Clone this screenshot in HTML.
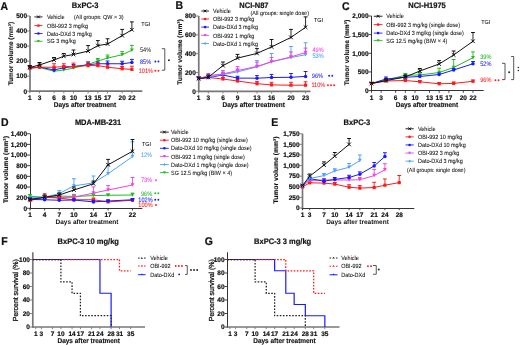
<!DOCTYPE html><html><head><meta charset="utf-8"><style>html,body{margin:0;padding:0;background:#fff;width:520px;height:345px;overflow:hidden}svg{display:block;will-change:transform}text{font-family:"Liberation Sans",sans-serif}</style></head><body>
<svg width="520" height="345" viewBox="0 0 520 345" text-rendering="geometricPrecision">
<rect width="520" height="345" fill="#fff"/>
<text x="0.60" y="9.58" font-size="11.24" font-weight="bold" text-anchor="start" fill="#111" stroke="#111" stroke-width="0.22" textLength="7.58" lengthAdjust="spacingAndGlyphs">A</text>
<text x="85.20" y="8.11" font-size="8.03" font-weight="bold" text-anchor="middle" fill="#111" stroke="#111" stroke-width="0.2" textLength="26.68" lengthAdjust="spacingAndGlyphs">BxPC-3</text>
<line x1="30.00" y1="16.00" x2="30.00" y2="92.00" stroke="#777" stroke-width="1.7"/>
<line x1="29.20" y1="91.20" x2="142.30" y2="91.20" stroke="#777" stroke-width="1.7"/>
<line x1="27.00" y1="91.20" x2="30.00" y2="91.20" stroke="#777" stroke-width="0.9"/>
<text x="27.10" y="93.51" font-size="6.6" font-weight="bold" text-anchor="end" fill="#111" stroke="#111" stroke-width="0.2" textLength="3.62" lengthAdjust="spacingAndGlyphs">0</text>
<line x1="27.00" y1="76.16" x2="30.00" y2="76.16" stroke="#777" stroke-width="0.9"/>
<text x="27.10" y="78.47" font-size="6.6" font-weight="bold" text-anchor="end" fill="#111" stroke="#111" stroke-width="0.2" textLength="10.85" lengthAdjust="spacingAndGlyphs">100</text>
<line x1="27.00" y1="61.12" x2="30.00" y2="61.12" stroke="#777" stroke-width="0.9"/>
<text x="27.10" y="63.43" font-size="6.6" font-weight="bold" text-anchor="end" fill="#111" stroke="#111" stroke-width="0.2" textLength="10.85" lengthAdjust="spacingAndGlyphs">200</text>
<line x1="27.00" y1="46.08" x2="30.00" y2="46.08" stroke="#777" stroke-width="0.9"/>
<text x="27.10" y="48.39" font-size="6.6" font-weight="bold" text-anchor="end" fill="#111" stroke="#111" stroke-width="0.2" textLength="10.85" lengthAdjust="spacingAndGlyphs">300</text>
<line x1="27.00" y1="31.04" x2="30.00" y2="31.04" stroke="#777" stroke-width="0.9"/>
<text x="27.10" y="33.35" font-size="6.6" font-weight="bold" text-anchor="end" fill="#111" stroke="#111" stroke-width="0.2" textLength="10.85" lengthAdjust="spacingAndGlyphs">400</text>
<line x1="27.00" y1="16.00" x2="30.00" y2="16.00" stroke="#777" stroke-width="0.9"/>
<text x="27.10" y="18.31" font-size="6.6" font-weight="bold" text-anchor="end" fill="#111" stroke="#111" stroke-width="0.2" textLength="10.85" lengthAdjust="spacingAndGlyphs">500</text>
<line x1="29.75" y1="91.20" x2="29.75" y2="93.40" stroke="#777" stroke-width="0.9"/>
<text x="29.75" y="99.71" font-size="6.6" font-weight="bold" text-anchor="middle" fill="#111" stroke="#111" stroke-width="0.2" textLength="3.62" lengthAdjust="spacingAndGlyphs">1</text>
<line x1="39.48" y1="91.20" x2="39.48" y2="93.40" stroke="#777" stroke-width="0.9"/>
<text x="39.48" y="99.71" font-size="6.6" font-weight="bold" text-anchor="middle" fill="#111" stroke="#111" stroke-width="0.2" textLength="3.62" lengthAdjust="spacingAndGlyphs">3</text>
<line x1="54.07" y1="91.20" x2="54.07" y2="93.40" stroke="#777" stroke-width="0.9"/>
<text x="54.07" y="99.71" font-size="6.6" font-weight="bold" text-anchor="middle" fill="#111" stroke="#111" stroke-width="0.2" textLength="3.62" lengthAdjust="spacingAndGlyphs">6</text>
<line x1="63.80" y1="91.20" x2="63.80" y2="93.40" stroke="#777" stroke-width="0.9"/>
<text x="63.80" y="99.71" font-size="6.6" font-weight="bold" text-anchor="middle" fill="#111" stroke="#111" stroke-width="0.2" textLength="3.62" lengthAdjust="spacingAndGlyphs">8</text>
<line x1="73.53" y1="91.20" x2="73.53" y2="93.40" stroke="#777" stroke-width="0.9"/>
<text x="73.53" y="99.71" font-size="6.6" font-weight="bold" text-anchor="middle" fill="#111" stroke="#111" stroke-width="0.2" textLength="7.23" lengthAdjust="spacingAndGlyphs">10</text>
<line x1="88.12" y1="91.20" x2="88.12" y2="93.40" stroke="#777" stroke-width="0.9"/>
<text x="88.12" y="99.71" font-size="6.6" font-weight="bold" text-anchor="middle" fill="#111" stroke="#111" stroke-width="0.2" textLength="7.23" lengthAdjust="spacingAndGlyphs">13</text>
<line x1="97.85" y1="91.20" x2="97.85" y2="93.40" stroke="#777" stroke-width="0.9"/>
<text x="97.85" y="99.71" font-size="6.6" font-weight="bold" text-anchor="middle" fill="#111" stroke="#111" stroke-width="0.2" textLength="7.23" lengthAdjust="spacingAndGlyphs">15</text>
<line x1="107.57" y1="91.20" x2="107.57" y2="93.40" stroke="#777" stroke-width="0.9"/>
<text x="107.57" y="99.71" font-size="6.6" font-weight="bold" text-anchor="middle" fill="#111" stroke="#111" stroke-width="0.2" textLength="7.23" lengthAdjust="spacingAndGlyphs">17</text>
<line x1="122.17" y1="91.20" x2="122.17" y2="93.40" stroke="#777" stroke-width="0.9"/>
<text x="122.17" y="99.71" font-size="6.6" font-weight="bold" text-anchor="middle" fill="#111" stroke="#111" stroke-width="0.2" textLength="7.23" lengthAdjust="spacingAndGlyphs">20</text>
<line x1="131.89" y1="91.20" x2="131.89" y2="93.40" stroke="#777" stroke-width="0.9"/>
<text x="131.89" y="99.71" font-size="6.6" font-weight="bold" text-anchor="middle" fill="#111" stroke="#111" stroke-width="0.2" textLength="7.23" lengthAdjust="spacingAndGlyphs">22</text>
<text x="0" y="2.34" transform="translate(11.10,53.60) rotate(-90)" font-size="6.68" font-weight="bold" text-anchor="middle" fill="#111" stroke="#111" stroke-width="0.13" textLength="63.40" lengthAdjust="spacingAndGlyphs">Tumor volume (mm³)</text>
<text x="85.00" y="107.02" font-size="6.91" font-weight="bold" text-anchor="middle" fill="#111" stroke="#111" stroke-width="0.13" textLength="62.47" lengthAdjust="spacingAndGlyphs">Days after treatment</text>
<line x1="34.40" y1="16.90" x2="42.50" y2="16.90" stroke="#111" stroke-width="0.9"/>
<path d="M37.09,15.53L39.82,18.27M37.09,18.27L39.82,15.53" stroke="#111" stroke-width="1.0"/>
<text x="46.90" y="19.03" font-size="6.1" font-weight="normal" text-anchor="start" fill="#111" stroke="#111" stroke-width="0.06" textLength="17.57" lengthAdjust="spacingAndGlyphs">Vehicle</text>
<line x1="34.40" y1="25.60" x2="42.50" y2="25.60" stroke="#ff1a1a" stroke-width="0.9"/>
<rect x="37.28" y="24.43" width="2.34" height="2.34" fill="#ff1a1a"/>
<text x="46.90" y="27.73" font-size="6.1" font-weight="normal" text-anchor="start" fill="#111" stroke="#111" stroke-width="0.06" textLength="41.20" lengthAdjust="spacingAndGlyphs">OBI-992 3 mg/kg</text>
<line x1="34.40" y1="33.50" x2="42.50" y2="33.50" stroke="#1a1aff" stroke-width="0.9"/>
<circle cx="38.45" cy="33.50" r="1.30" fill="#1a1aff"/>
<text x="46.90" y="35.63" font-size="6.1" font-weight="normal" text-anchor="start" fill="#111" stroke="#111" stroke-width="0.06" textLength="44.83" lengthAdjust="spacingAndGlyphs">Dato-DXd 3 mg/kg</text>
<line x1="34.40" y1="41.25" x2="42.50" y2="41.25" stroke="#22bb22" stroke-width="0.9"/>
<path d="M37.02,39.95L39.88,39.95L38.45,42.55Z" fill="#22bb22"/>
<text x="46.90" y="43.38" font-size="6.1" font-weight="normal" text-anchor="start" fill="#111" stroke="#111" stroke-width="0.06" textLength="28.78" lengthAdjust="spacingAndGlyphs">SG 3 mg/kg</text>
<text x="74.00" y="19.34" font-size="5.83" font-weight="normal" text-anchor="start" fill="#111" stroke="#111" stroke-width="0.06" textLength="49.52" lengthAdjust="spacingAndGlyphs">(All groups: QW × 3)</text>
<line x1="29.75" y1="68.00" x2="29.75" y2="66.00" stroke="#22bb22" stroke-width="0.9"/>
<line x1="27.85" y1="66.00" x2="31.65" y2="66.00" stroke="#22bb22" stroke-width="1.0"/>
<line x1="39.48" y1="67.50" x2="39.48" y2="66.00" stroke="#22bb22" stroke-width="0.9"/>
<line x1="37.58" y1="66.00" x2="41.38" y2="66.00" stroke="#22bb22" stroke-width="1.0"/>
<line x1="54.07" y1="71.25" x2="54.07" y2="69.50" stroke="#22bb22" stroke-width="0.9"/>
<line x1="52.17" y1="69.50" x2="55.97" y2="69.50" stroke="#22bb22" stroke-width="1.0"/>
<line x1="63.80" y1="70.00" x2="63.80" y2="68.00" stroke="#22bb22" stroke-width="0.9"/>
<line x1="61.90" y1="68.00" x2="65.70" y2="68.00" stroke="#22bb22" stroke-width="1.0"/>
<line x1="73.53" y1="68.10" x2="73.53" y2="66.00" stroke="#22bb22" stroke-width="0.9"/>
<line x1="71.63" y1="66.00" x2="75.43" y2="66.00" stroke="#22bb22" stroke-width="1.0"/>
<line x1="88.12" y1="64.40" x2="88.12" y2="62.00" stroke="#22bb22" stroke-width="0.9"/>
<line x1="86.22" y1="62.00" x2="90.02" y2="62.00" stroke="#22bb22" stroke-width="1.0"/>
<line x1="97.85" y1="61.00" x2="97.85" y2="58.50" stroke="#22bb22" stroke-width="0.9"/>
<line x1="95.95" y1="58.50" x2="99.75" y2="58.50" stroke="#22bb22" stroke-width="1.0"/>
<line x1="107.57" y1="58.10" x2="107.57" y2="55.00" stroke="#22bb22" stroke-width="0.9"/>
<line x1="105.67" y1="55.00" x2="109.47" y2="55.00" stroke="#22bb22" stroke-width="1.0"/>
<line x1="122.17" y1="54.75" x2="122.17" y2="51.60" stroke="#22bb22" stroke-width="0.9"/>
<line x1="120.27" y1="51.60" x2="124.07" y2="51.60" stroke="#22bb22" stroke-width="1.0"/>
<line x1="131.89" y1="50.25" x2="131.89" y2="45.40" stroke="#22bb22" stroke-width="0.9"/>
<line x1="129.99" y1="45.40" x2="133.79" y2="45.40" stroke="#22bb22" stroke-width="1.0"/>
<polyline points="29.75,68.00 39.48,67.50 54.07,71.25 63.80,70.00 73.53,68.10 88.12,64.40 97.85,61.00 107.57,58.10 122.17,54.75 131.89,50.25" fill="none" stroke="#22bb22" stroke-width="1.0" stroke-linejoin="miter"/>
<path d="M27.82,66.25L31.68,66.25L29.75,69.75Z" fill="#22bb22"/>
<path d="M37.55,65.75L41.40,65.75L39.48,69.25Z" fill="#22bb22"/>
<path d="M52.15,69.50L55.99,69.50L54.07,73.00Z" fill="#22bb22"/>
<path d="M61.87,68.25L65.72,68.25L63.80,71.75Z" fill="#22bb22"/>
<path d="M71.60,66.35L75.45,66.35L73.53,69.85Z" fill="#22bb22"/>
<path d="M86.19,62.65L90.04,62.65L88.12,66.15Z" fill="#22bb22"/>
<path d="M95.92,59.25L99.77,59.25L97.85,62.75Z" fill="#22bb22"/>
<path d="M105.65,56.35L109.50,56.35L107.57,59.85Z" fill="#22bb22"/>
<path d="M120.24,53.00L124.09,53.00L122.17,56.50Z" fill="#22bb22"/>
<path d="M129.97,48.50L133.82,48.50L131.89,52.00Z" fill="#22bb22"/>
<line x1="29.75" y1="68.00" x2="29.75" y2="66.00" stroke="#1a1aff" stroke-width="0.9"/>
<line x1="27.85" y1="66.00" x2="31.65" y2="66.00" stroke="#1a1aff" stroke-width="1.0"/>
<line x1="39.48" y1="67.00" x2="39.48" y2="65.50" stroke="#1a1aff" stroke-width="0.9"/>
<line x1="37.58" y1="65.50" x2="41.38" y2="65.50" stroke="#1a1aff" stroke-width="1.0"/>
<line x1="54.07" y1="70.00" x2="54.07" y2="68.00" stroke="#1a1aff" stroke-width="0.9"/>
<line x1="52.17" y1="68.00" x2="55.97" y2="68.00" stroke="#1a1aff" stroke-width="1.0"/>
<line x1="63.80" y1="67.75" x2="63.80" y2="66.00" stroke="#1a1aff" stroke-width="0.9"/>
<line x1="61.90" y1="66.00" x2="65.70" y2="66.00" stroke="#1a1aff" stroke-width="1.0"/>
<line x1="73.53" y1="66.50" x2="73.53" y2="64.50" stroke="#1a1aff" stroke-width="0.9"/>
<line x1="71.63" y1="64.50" x2="75.43" y2="64.50" stroke="#1a1aff" stroke-width="1.0"/>
<line x1="88.12" y1="64.75" x2="88.12" y2="63.00" stroke="#1a1aff" stroke-width="0.9"/>
<line x1="86.22" y1="63.00" x2="90.02" y2="63.00" stroke="#1a1aff" stroke-width="1.0"/>
<line x1="97.85" y1="63.75" x2="97.85" y2="62.00" stroke="#1a1aff" stroke-width="0.9"/>
<line x1="95.95" y1="62.00" x2="99.75" y2="62.00" stroke="#1a1aff" stroke-width="1.0"/>
<line x1="107.57" y1="63.75" x2="107.57" y2="61.00" stroke="#1a1aff" stroke-width="0.9"/>
<line x1="105.67" y1="61.00" x2="109.47" y2="61.00" stroke="#1a1aff" stroke-width="1.0"/>
<line x1="122.17" y1="63.75" x2="122.17" y2="61.25" stroke="#1a1aff" stroke-width="0.9"/>
<line x1="120.27" y1="61.25" x2="124.07" y2="61.25" stroke="#1a1aff" stroke-width="1.0"/>
<line x1="131.89" y1="62.50" x2="131.89" y2="59.40" stroke="#1a1aff" stroke-width="0.9"/>
<line x1="129.99" y1="59.40" x2="133.79" y2="59.40" stroke="#1a1aff" stroke-width="1.0"/>
<polyline points="29.75,68.00 39.48,67.00 54.07,70.00 63.80,67.75 73.53,66.50 88.12,64.75 97.85,63.75 107.57,63.75 122.17,63.75 131.89,62.50" fill="none" stroke="#1a1aff" stroke-width="1.0" stroke-linejoin="miter"/>
<circle cx="29.75" cy="68.00" r="1.75" fill="#1a1aff"/>
<circle cx="39.48" cy="67.00" r="1.75" fill="#1a1aff"/>
<circle cx="54.07" cy="70.00" r="1.75" fill="#1a1aff"/>
<circle cx="63.80" cy="67.75" r="1.75" fill="#1a1aff"/>
<circle cx="73.53" cy="66.50" r="1.75" fill="#1a1aff"/>
<circle cx="88.12" cy="64.75" r="1.75" fill="#1a1aff"/>
<circle cx="97.85" cy="63.75" r="1.75" fill="#1a1aff"/>
<circle cx="107.57" cy="63.75" r="1.75" fill="#1a1aff"/>
<circle cx="122.17" cy="63.75" r="1.75" fill="#1a1aff"/>
<circle cx="131.89" cy="62.50" r="1.75" fill="#1a1aff"/>
<line x1="29.75" y1="68.10" x2="29.75" y2="66.00" stroke="#ff1a1a" stroke-width="0.9"/>
<line x1="27.85" y1="66.00" x2="31.65" y2="66.00" stroke="#ff1a1a" stroke-width="1.0"/>
<line x1="39.48" y1="67.25" x2="39.48" y2="65.00" stroke="#ff1a1a" stroke-width="0.9"/>
<line x1="37.58" y1="65.00" x2="41.38" y2="65.00" stroke="#ff1a1a" stroke-width="1.0"/>
<line x1="54.07" y1="67.25" x2="54.07" y2="63.75" stroke="#ff1a1a" stroke-width="0.9"/>
<line x1="52.17" y1="63.75" x2="55.97" y2="63.75" stroke="#ff1a1a" stroke-width="1.0"/>
<line x1="63.80" y1="66.60" x2="63.80" y2="63.75" stroke="#ff1a1a" stroke-width="0.9"/>
<line x1="61.90" y1="63.75" x2="65.70" y2="63.75" stroke="#ff1a1a" stroke-width="1.0"/>
<line x1="73.53" y1="66.60" x2="73.53" y2="63.10" stroke="#ff1a1a" stroke-width="0.9"/>
<line x1="71.63" y1="63.10" x2="75.43" y2="63.10" stroke="#ff1a1a" stroke-width="1.0"/>
<line x1="88.12" y1="65.60" x2="88.12" y2="61.90" stroke="#ff1a1a" stroke-width="0.9"/>
<line x1="86.22" y1="61.90" x2="90.02" y2="61.90" stroke="#ff1a1a" stroke-width="1.0"/>
<line x1="97.85" y1="65.60" x2="97.85" y2="63.00" stroke="#ff1a1a" stroke-width="0.9"/>
<line x1="95.95" y1="63.00" x2="99.75" y2="63.00" stroke="#ff1a1a" stroke-width="1.0"/>
<line x1="107.57" y1="67.25" x2="107.57" y2="65.00" stroke="#ff1a1a" stroke-width="0.9"/>
<line x1="105.67" y1="65.00" x2="109.47" y2="65.00" stroke="#ff1a1a" stroke-width="1.0"/>
<line x1="122.17" y1="68.75" x2="122.17" y2="66.50" stroke="#ff1a1a" stroke-width="0.9"/>
<line x1="120.27" y1="66.50" x2="124.07" y2="66.50" stroke="#ff1a1a" stroke-width="1.0"/>
<line x1="131.89" y1="69.40" x2="131.89" y2="66.25" stroke="#ff1a1a" stroke-width="0.9"/>
<line x1="129.99" y1="66.25" x2="133.79" y2="66.25" stroke="#ff1a1a" stroke-width="1.0"/>
<polyline points="29.75,68.10 39.48,67.25 54.07,67.25 63.80,66.60 73.53,66.60 88.12,65.60 97.85,65.60 107.57,67.25 122.17,68.75 131.89,69.40" fill="none" stroke="#ff1a1a" stroke-width="1.0" stroke-linejoin="miter"/>
<rect x="28.18" y="66.52" width="3.15" height="3.15" fill="#ff1a1a"/>
<rect x="37.90" y="65.67" width="3.15" height="3.15" fill="#ff1a1a"/>
<rect x="52.49" y="65.67" width="3.15" height="3.15" fill="#ff1a1a"/>
<rect x="62.22" y="65.02" width="3.15" height="3.15" fill="#ff1a1a"/>
<rect x="71.95" y="65.02" width="3.15" height="3.15" fill="#ff1a1a"/>
<rect x="86.54" y="64.02" width="3.15" height="3.15" fill="#ff1a1a"/>
<rect x="96.27" y="64.02" width="3.15" height="3.15" fill="#ff1a1a"/>
<rect x="106.00" y="65.67" width="3.15" height="3.15" fill="#ff1a1a"/>
<rect x="120.59" y="67.17" width="3.15" height="3.15" fill="#ff1a1a"/>
<rect x="130.32" y="67.83" width="3.15" height="3.15" fill="#ff1a1a"/>
<line x1="29.75" y1="67.50" x2="29.75" y2="65.50" stroke="#111" stroke-width="0.9"/>
<line x1="27.85" y1="65.50" x2="31.65" y2="65.50" stroke="#111" stroke-width="1.0"/>
<line x1="39.48" y1="65.00" x2="39.48" y2="62.50" stroke="#111" stroke-width="0.9"/>
<line x1="37.58" y1="62.50" x2="41.38" y2="62.50" stroke="#111" stroke-width="1.0"/>
<line x1="54.07" y1="60.00" x2="54.07" y2="57.50" stroke="#111" stroke-width="0.9"/>
<line x1="52.17" y1="57.50" x2="55.97" y2="57.50" stroke="#111" stroke-width="1.0"/>
<line x1="63.80" y1="56.25" x2="63.80" y2="53.50" stroke="#111" stroke-width="0.9"/>
<line x1="61.90" y1="53.50" x2="65.70" y2="53.50" stroke="#111" stroke-width="1.0"/>
<line x1="73.53" y1="54.50" x2="73.53" y2="50.00" stroke="#111" stroke-width="0.9"/>
<line x1="71.63" y1="50.00" x2="75.43" y2="50.00" stroke="#111" stroke-width="1.0"/>
<line x1="88.12" y1="51.10" x2="88.12" y2="45.60" stroke="#111" stroke-width="0.9"/>
<line x1="86.22" y1="45.60" x2="90.02" y2="45.60" stroke="#111" stroke-width="1.0"/>
<line x1="97.85" y1="45.60" x2="97.85" y2="40.60" stroke="#111" stroke-width="0.9"/>
<line x1="95.95" y1="40.60" x2="99.75" y2="40.60" stroke="#111" stroke-width="1.0"/>
<line x1="107.57" y1="44.00" x2="107.57" y2="38.75" stroke="#111" stroke-width="0.9"/>
<line x1="105.67" y1="38.75" x2="109.47" y2="38.75" stroke="#111" stroke-width="1.0"/>
<line x1="122.17" y1="35.60" x2="122.17" y2="29.40" stroke="#111" stroke-width="0.9"/>
<line x1="120.27" y1="29.40" x2="124.07" y2="29.40" stroke="#111" stroke-width="1.0"/>
<line x1="131.89" y1="29.75" x2="131.89" y2="21.90" stroke="#111" stroke-width="0.9"/>
<line x1="129.99" y1="21.90" x2="133.79" y2="21.90" stroke="#111" stroke-width="1.0"/>
<polyline points="29.75,67.50 39.48,65.00 54.07,60.00 63.80,56.25 73.53,54.50 88.12,51.10 97.85,45.60 107.57,44.00 122.17,35.60 131.89,29.75" fill="none" stroke="#111" stroke-width="1.0" stroke-linejoin="miter"/>
<path d="M27.91,65.66L31.59,69.34M27.91,69.34L31.59,65.66" stroke="#111" stroke-width="1.0"/>
<path d="M37.64,63.16L41.32,66.84M37.64,66.84L41.32,63.16" stroke="#111" stroke-width="1.0"/>
<path d="M52.23,58.16L55.91,61.84M52.23,61.84L55.91,58.16" stroke="#111" stroke-width="1.0"/>
<path d="M61.96,54.41L65.64,58.09M61.96,58.09L65.64,54.41" stroke="#111" stroke-width="1.0"/>
<path d="M71.69,52.66L75.36,56.34M71.69,56.34L75.36,52.66" stroke="#111" stroke-width="1.0"/>
<path d="M86.28,49.26L89.96,52.94M86.28,52.94L89.96,49.26" stroke="#111" stroke-width="1.0"/>
<path d="M96.01,43.76L99.68,47.44M96.01,47.44L99.68,43.76" stroke="#111" stroke-width="1.0"/>
<path d="M105.74,42.16L109.41,45.84M105.74,45.84L109.41,42.16" stroke="#111" stroke-width="1.0"/>
<path d="M120.33,33.76L124.00,37.44M120.33,37.44L124.00,33.76" stroke="#111" stroke-width="1.0"/>
<path d="M130.06,27.91L133.73,31.59M130.06,31.59L133.73,27.91" stroke="#111" stroke-width="1.0"/>
<text x="141.25" y="25.79" font-size="5.83" font-weight="normal" text-anchor="start" fill="#111" stroke="#111" stroke-width="0.06" textLength="9.08" lengthAdjust="spacingAndGlyphs">TGI</text>
<text x="140.00" y="52.14" font-size="6.4" font-weight="normal" text-anchor="start" fill="#333" stroke="#333" stroke-width="0.06" textLength="11.21" lengthAdjust="spacingAndGlyphs">54%</text>
<text x="140.00" y="63.74" font-size="6.4" font-weight="normal" text-anchor="start" fill="#1a1aff" stroke="#1a1aff" stroke-width="0.06" textLength="11.21" lengthAdjust="spacingAndGlyphs">85%</text>
<text x="138.70" y="72.94" font-size="6.4" font-weight="normal" text-anchor="start" fill="#ff1a1a" stroke="#ff1a1a" stroke-width="0.06" textLength="14.32" lengthAdjust="spacingAndGlyphs">101%</text>
<circle cx="155.35" cy="61.50" r="0.95" fill="#1a1aff"/>
<circle cx="158.45" cy="61.50" r="0.95" fill="#1a1aff"/>
<circle cx="155.35" cy="70.70" r="0.95" fill="#ff1a1a"/>
<circle cx="158.45" cy="70.70" r="0.95" fill="#ff1a1a"/>
<path d="M161.90,48.70H164.80V70.20H161.90" fill="none" stroke="#444" stroke-width="0.9"/>
<circle cx="168.95" cy="60.30" r="0.95" fill="#222"/>
<text x="175.60" y="9.38" font-size="11.24" font-weight="bold" text-anchor="start" fill="#111" stroke="#111" stroke-width="0.22" textLength="7.58" lengthAdjust="spacingAndGlyphs">B</text>
<text x="253.90" y="8.31" font-size="8.03" font-weight="bold" text-anchor="middle" fill="#111" stroke="#111" stroke-width="0.2" textLength="29.17" lengthAdjust="spacingAndGlyphs">NCI-N87</text>
<line x1="198.75" y1="16.00" x2="198.75" y2="92.10" stroke="#777" stroke-width="1.7"/>
<line x1="197.95" y1="91.30" x2="310.50" y2="91.30" stroke="#777" stroke-width="1.7"/>
<line x1="195.75" y1="91.30" x2="198.75" y2="91.30" stroke="#777" stroke-width="0.9"/>
<text x="195.85" y="93.61" font-size="6.6" font-weight="bold" text-anchor="end" fill="#111" stroke="#111" stroke-width="0.2" textLength="3.62" lengthAdjust="spacingAndGlyphs">0</text>
<line x1="195.75" y1="72.48" x2="198.75" y2="72.48" stroke="#777" stroke-width="0.9"/>
<text x="195.85" y="74.79" font-size="6.6" font-weight="bold" text-anchor="end" fill="#111" stroke="#111" stroke-width="0.2" textLength="10.85" lengthAdjust="spacingAndGlyphs">200</text>
<line x1="195.75" y1="53.66" x2="198.75" y2="53.66" stroke="#777" stroke-width="0.9"/>
<text x="195.85" y="55.97" font-size="6.6" font-weight="bold" text-anchor="end" fill="#111" stroke="#111" stroke-width="0.2" textLength="10.85" lengthAdjust="spacingAndGlyphs">400</text>
<line x1="195.75" y1="34.84" x2="198.75" y2="34.84" stroke="#777" stroke-width="0.9"/>
<text x="195.85" y="37.15" font-size="6.6" font-weight="bold" text-anchor="end" fill="#111" stroke="#111" stroke-width="0.2" textLength="10.85" lengthAdjust="spacingAndGlyphs">600</text>
<line x1="195.75" y1="16.02" x2="198.75" y2="16.02" stroke="#777" stroke-width="0.9"/>
<text x="195.85" y="18.33" font-size="6.6" font-weight="bold" text-anchor="end" fill="#111" stroke="#111" stroke-width="0.2" textLength="10.85" lengthAdjust="spacingAndGlyphs">800</text>
<line x1="198.65" y1="91.30" x2="198.65" y2="93.50" stroke="#777" stroke-width="0.9"/>
<text x="198.65" y="99.51" font-size="6.6" font-weight="bold" text-anchor="middle" fill="#111" stroke="#111" stroke-width="0.2" textLength="3.62" lengthAdjust="spacingAndGlyphs">1</text>
<line x1="208.37" y1="91.30" x2="208.37" y2="93.50" stroke="#777" stroke-width="0.9"/>
<text x="208.37" y="99.51" font-size="6.6" font-weight="bold" text-anchor="middle" fill="#111" stroke="#111" stroke-width="0.2" textLength="3.62" lengthAdjust="spacingAndGlyphs">3</text>
<line x1="222.95" y1="91.30" x2="222.95" y2="93.50" stroke="#777" stroke-width="0.9"/>
<text x="222.95" y="99.51" font-size="6.6" font-weight="bold" text-anchor="middle" fill="#111" stroke="#111" stroke-width="0.2" textLength="3.62" lengthAdjust="spacingAndGlyphs">6</text>
<line x1="237.53" y1="91.30" x2="237.53" y2="93.50" stroke="#777" stroke-width="0.9"/>
<text x="237.53" y="99.51" font-size="6.6" font-weight="bold" text-anchor="middle" fill="#111" stroke="#111" stroke-width="0.2" textLength="3.62" lengthAdjust="spacingAndGlyphs">9</text>
<line x1="256.97" y1="91.30" x2="256.97" y2="93.50" stroke="#777" stroke-width="0.9"/>
<text x="256.97" y="99.51" font-size="6.6" font-weight="bold" text-anchor="middle" fill="#111" stroke="#111" stroke-width="0.2" textLength="7.23" lengthAdjust="spacingAndGlyphs">13</text>
<line x1="271.55" y1="91.30" x2="271.55" y2="93.50" stroke="#777" stroke-width="0.9"/>
<text x="271.55" y="99.51" font-size="6.6" font-weight="bold" text-anchor="middle" fill="#111" stroke="#111" stroke-width="0.2" textLength="7.23" lengthAdjust="spacingAndGlyphs">16</text>
<line x1="290.99" y1="91.30" x2="290.99" y2="93.50" stroke="#777" stroke-width="0.9"/>
<text x="290.99" y="99.51" font-size="6.6" font-weight="bold" text-anchor="middle" fill="#111" stroke="#111" stroke-width="0.2" textLength="7.23" lengthAdjust="spacingAndGlyphs">20</text>
<line x1="305.57" y1="91.30" x2="305.57" y2="93.50" stroke="#777" stroke-width="0.9"/>
<text x="305.57" y="99.51" font-size="6.6" font-weight="bold" text-anchor="middle" fill="#111" stroke="#111" stroke-width="0.2" textLength="7.23" lengthAdjust="spacingAndGlyphs">23</text>
<text x="0" y="2.34" transform="translate(179.40,52.00) rotate(-90)" font-size="6.68" font-weight="bold" text-anchor="middle" fill="#111" stroke="#111" stroke-width="0.13" textLength="65.40" lengthAdjust="spacingAndGlyphs">Tumor volume (mm³)</text>
<text x="253.75" y="106.82" font-size="6.91" font-weight="bold" text-anchor="middle" fill="#111" stroke="#111" stroke-width="0.13" textLength="62.47" lengthAdjust="spacingAndGlyphs">Days after treatment</text>
<line x1="201.25" y1="11.00" x2="209.00" y2="11.00" stroke="#111" stroke-width="0.9"/>
<path d="M203.76,9.63L206.49,12.37M203.76,12.37L206.49,9.63" stroke="#111" stroke-width="1.0"/>
<text x="213.10" y="13.13" font-size="6.1" font-weight="normal" text-anchor="start" fill="#111" stroke="#111" stroke-width="0.06" textLength="17.57" lengthAdjust="spacingAndGlyphs">Vehicle</text>
<line x1="201.25" y1="19.00" x2="209.00" y2="19.00" stroke="#ff1a1a" stroke-width="0.9"/>
<circle cx="205.12" cy="19.00" r="1.30" fill="#ff1a1a"/>
<text x="213.10" y="21.13" font-size="6.1" font-weight="normal" text-anchor="start" fill="#111" stroke="#111" stroke-width="0.06" textLength="41.20" lengthAdjust="spacingAndGlyphs">OBI-992 3 mg/kg</text>
<line x1="201.25" y1="27.10" x2="209.00" y2="27.10" stroke="#1a1aff" stroke-width="0.9"/>
<circle cx="205.12" cy="27.10" r="1.30" fill="#1a1aff"/>
<text x="213.10" y="29.23" font-size="6.1" font-weight="normal" text-anchor="start" fill="#111" stroke="#111" stroke-width="0.06" textLength="44.83" lengthAdjust="spacingAndGlyphs">Dato-DXd 3 mg/kg</text>
<line x1="201.25" y1="35.40" x2="209.00" y2="35.40" stroke="#ee44dd" stroke-width="0.9"/>
<path d="M203.69,34.10L206.56,34.10L205.12,36.70Z" fill="#ee44dd"/>
<text x="213.10" y="37.53" font-size="6.1" font-weight="normal" text-anchor="start" fill="#111" stroke="#111" stroke-width="0.06" textLength="41.20" lengthAdjust="spacingAndGlyphs">OBI-992 1 mg/kg</text>
<line x1="201.25" y1="43.50" x2="209.00" y2="43.50" stroke="#4da3ff" stroke-width="0.9"/>
<path d="M205.12,41.94L206.43,43.50L205.12,45.06L203.82,43.50Z" fill="#4da3ff"/>
<text x="213.10" y="45.63" font-size="6.1" font-weight="normal" text-anchor="start" fill="#111" stroke="#111" stroke-width="0.06" textLength="44.83" lengthAdjust="spacingAndGlyphs">Dato-DXd 1 mg/kg</text>
<text x="250.50" y="14.54" font-size="5.83" font-weight="normal" text-anchor="start" fill="#111" stroke="#111" stroke-width="0.06" textLength="58.47" lengthAdjust="spacingAndGlyphs">(All groups: single dose)</text>
<line x1="198.65" y1="78.60" x2="198.65" y2="77.00" stroke="#ff1a1a" stroke-width="0.9"/>
<line x1="196.75" y1="77.00" x2="200.55" y2="77.00" stroke="#ff1a1a" stroke-width="1.0"/>
<line x1="208.37" y1="77.50" x2="208.37" y2="76.00" stroke="#ff1a1a" stroke-width="0.9"/>
<line x1="206.47" y1="76.00" x2="210.27" y2="76.00" stroke="#ff1a1a" stroke-width="1.0"/>
<line x1="222.95" y1="79.00" x2="222.95" y2="77.50" stroke="#ff1a1a" stroke-width="0.9"/>
<line x1="221.05" y1="77.50" x2="224.85" y2="77.50" stroke="#ff1a1a" stroke-width="1.0"/>
<line x1="237.53" y1="81.00" x2="237.53" y2="79.50" stroke="#ff1a1a" stroke-width="0.9"/>
<line x1="235.63" y1="79.50" x2="239.43" y2="79.50" stroke="#ff1a1a" stroke-width="1.0"/>
<line x1="256.97" y1="83.70" x2="256.97" y2="81.40" stroke="#ff1a1a" stroke-width="0.9"/>
<line x1="255.07" y1="81.40" x2="258.87" y2="81.40" stroke="#ff1a1a" stroke-width="1.0"/>
<line x1="271.55" y1="84.90" x2="271.55" y2="82.30" stroke="#ff1a1a" stroke-width="0.9"/>
<line x1="269.65" y1="82.30" x2="273.45" y2="82.30" stroke="#ff1a1a" stroke-width="1.0"/>
<line x1="290.99" y1="85.20" x2="290.99" y2="82.30" stroke="#ff1a1a" stroke-width="0.9"/>
<line x1="289.09" y1="82.30" x2="292.89" y2="82.30" stroke="#ff1a1a" stroke-width="1.0"/>
<line x1="305.57" y1="85.20" x2="305.57" y2="81.80" stroke="#ff1a1a" stroke-width="0.9"/>
<line x1="303.67" y1="81.80" x2="307.47" y2="81.80" stroke="#ff1a1a" stroke-width="1.0"/>
<polyline points="198.65,78.60 208.37,77.50 222.95,79.00 237.53,81.00 256.97,83.70 271.55,84.90 290.99,85.20 305.57,85.20" fill="none" stroke="#ff1a1a" stroke-width="1.0" stroke-linejoin="miter"/>
<rect x="197.08" y="77.02" width="3.15" height="3.15" fill="#ff1a1a"/>
<rect x="206.80" y="75.92" width="3.15" height="3.15" fill="#ff1a1a"/>
<rect x="221.38" y="77.42" width="3.15" height="3.15" fill="#ff1a1a"/>
<rect x="235.96" y="79.42" width="3.15" height="3.15" fill="#ff1a1a"/>
<rect x="255.40" y="82.12" width="3.15" height="3.15" fill="#ff1a1a"/>
<rect x="269.98" y="83.33" width="3.15" height="3.15" fill="#ff1a1a"/>
<rect x="289.42" y="83.62" width="3.15" height="3.15" fill="#ff1a1a"/>
<rect x="304.00" y="83.62" width="3.15" height="3.15" fill="#ff1a1a"/>
<line x1="198.65" y1="78.60" x2="198.65" y2="77.00" stroke="#1a1aff" stroke-width="0.9"/>
<line x1="196.75" y1="77.00" x2="200.55" y2="77.00" stroke="#1a1aff" stroke-width="1.0"/>
<line x1="208.37" y1="77.50" x2="208.37" y2="76.00" stroke="#1a1aff" stroke-width="0.9"/>
<line x1="206.47" y1="76.00" x2="210.27" y2="76.00" stroke="#1a1aff" stroke-width="1.0"/>
<line x1="222.95" y1="75.00" x2="222.95" y2="73.00" stroke="#1a1aff" stroke-width="0.9"/>
<line x1="221.05" y1="73.00" x2="224.85" y2="73.00" stroke="#1a1aff" stroke-width="1.0"/>
<line x1="237.53" y1="78.10" x2="237.53" y2="76.25" stroke="#1a1aff" stroke-width="0.9"/>
<line x1="235.63" y1="76.25" x2="239.43" y2="76.25" stroke="#1a1aff" stroke-width="1.0"/>
<line x1="256.97" y1="78.20" x2="256.97" y2="75.60" stroke="#1a1aff" stroke-width="0.9"/>
<line x1="255.07" y1="75.60" x2="258.87" y2="75.60" stroke="#1a1aff" stroke-width="1.0"/>
<line x1="271.55" y1="77.50" x2="271.55" y2="74.40" stroke="#1a1aff" stroke-width="0.9"/>
<line x1="269.65" y1="74.40" x2="273.45" y2="74.40" stroke="#1a1aff" stroke-width="1.0"/>
<line x1="290.99" y1="77.30" x2="290.99" y2="73.50" stroke="#1a1aff" stroke-width="0.9"/>
<line x1="289.09" y1="73.50" x2="292.89" y2="73.50" stroke="#1a1aff" stroke-width="1.0"/>
<line x1="305.57" y1="76.40" x2="305.57" y2="71.50" stroke="#1a1aff" stroke-width="0.9"/>
<line x1="303.67" y1="71.50" x2="307.47" y2="71.50" stroke="#1a1aff" stroke-width="1.0"/>
<polyline points="198.65,78.60 208.37,77.50 222.95,75.00 237.53,78.10 256.97,78.20 271.55,77.50 290.99,77.30 305.57,76.40" fill="none" stroke="#1a1aff" stroke-width="1.0" stroke-linejoin="miter"/>
<circle cx="198.65" cy="78.60" r="1.75" fill="#1a1aff"/>
<circle cx="208.37" cy="77.50" r="1.75" fill="#1a1aff"/>
<circle cx="222.95" cy="75.00" r="1.75" fill="#1a1aff"/>
<circle cx="237.53" cy="78.10" r="1.75" fill="#1a1aff"/>
<circle cx="256.97" cy="78.20" r="1.75" fill="#1a1aff"/>
<circle cx="271.55" cy="77.50" r="1.75" fill="#1a1aff"/>
<circle cx="290.99" cy="77.30" r="1.75" fill="#1a1aff"/>
<circle cx="305.57" cy="76.40" r="1.75" fill="#1a1aff"/>
<line x1="198.65" y1="78.60" x2="198.65" y2="77.00" stroke="#4da3ff" stroke-width="0.9"/>
<line x1="196.75" y1="77.00" x2="200.55" y2="77.00" stroke="#4da3ff" stroke-width="1.0"/>
<line x1="208.37" y1="77.00" x2="208.37" y2="75.50" stroke="#4da3ff" stroke-width="0.9"/>
<line x1="206.47" y1="75.50" x2="210.27" y2="75.50" stroke="#4da3ff" stroke-width="1.0"/>
<line x1="222.95" y1="74.40" x2="222.95" y2="72.00" stroke="#4da3ff" stroke-width="0.9"/>
<line x1="221.05" y1="72.00" x2="224.85" y2="72.00" stroke="#4da3ff" stroke-width="1.0"/>
<line x1="237.53" y1="71.90" x2="237.53" y2="69.00" stroke="#4da3ff" stroke-width="0.9"/>
<line x1="235.63" y1="69.00" x2="239.43" y2="69.00" stroke="#4da3ff" stroke-width="1.0"/>
<line x1="256.97" y1="66.90" x2="256.97" y2="60.60" stroke="#4da3ff" stroke-width="0.9"/>
<line x1="255.07" y1="60.60" x2="258.87" y2="60.60" stroke="#4da3ff" stroke-width="1.0"/>
<line x1="271.55" y1="61.50" x2="271.55" y2="53.50" stroke="#4da3ff" stroke-width="0.9"/>
<line x1="269.65" y1="53.50" x2="273.45" y2="53.50" stroke="#4da3ff" stroke-width="1.0"/>
<line x1="290.99" y1="57.50" x2="290.99" y2="46.50" stroke="#4da3ff" stroke-width="0.9"/>
<line x1="289.09" y1="46.50" x2="292.89" y2="46.50" stroke="#4da3ff" stroke-width="1.0"/>
<line x1="305.57" y1="54.75" x2="305.57" y2="42.75" stroke="#4da3ff" stroke-width="0.9"/>
<line x1="303.67" y1="42.75" x2="307.47" y2="42.75" stroke="#4da3ff" stroke-width="1.0"/>
<polyline points="198.65,78.60 208.37,77.00 222.95,74.40 237.53,71.90 256.97,66.90 271.55,61.50 290.99,57.50 305.57,54.75" fill="none" stroke="#4da3ff" stroke-width="1.0" stroke-linejoin="miter"/>
<path d="M196.72,76.85L200.58,76.85L198.65,80.35Z" fill="#4da3ff"/>
<path d="M206.44,75.25L210.30,75.25L208.37,78.75Z" fill="#4da3ff"/>
<path d="M221.03,72.65L224.88,72.65L222.95,76.15Z" fill="#4da3ff"/>
<path d="M235.60,70.15L239.46,70.15L237.53,73.65Z" fill="#4da3ff"/>
<path d="M255.05,65.15L258.90,65.15L256.97,68.65Z" fill="#4da3ff"/>
<path d="M269.62,59.75L273.48,59.75L271.55,63.25Z" fill="#4da3ff"/>
<path d="M289.06,55.75L292.92,55.75L290.99,59.25Z" fill="#4da3ff"/>
<path d="M303.64,53.00L307.50,53.00L305.57,56.50Z" fill="#4da3ff"/>
<line x1="198.65" y1="78.60" x2="198.65" y2="77.00" stroke="#ee44dd" stroke-width="0.9"/>
<line x1="196.75" y1="77.00" x2="200.55" y2="77.00" stroke="#ee44dd" stroke-width="1.0"/>
<line x1="208.37" y1="75.60" x2="208.37" y2="73.50" stroke="#ee44dd" stroke-width="0.9"/>
<line x1="206.47" y1="73.50" x2="210.27" y2="73.50" stroke="#ee44dd" stroke-width="1.0"/>
<line x1="222.95" y1="74.00" x2="222.95" y2="70.60" stroke="#ee44dd" stroke-width="0.9"/>
<line x1="221.05" y1="70.60" x2="224.85" y2="70.60" stroke="#ee44dd" stroke-width="1.0"/>
<line x1="237.53" y1="70.60" x2="237.53" y2="66.60" stroke="#ee44dd" stroke-width="0.9"/>
<line x1="235.63" y1="66.60" x2="239.43" y2="66.60" stroke="#ee44dd" stroke-width="1.0"/>
<line x1="256.97" y1="66.40" x2="256.97" y2="62.20" stroke="#ee44dd" stroke-width="0.9"/>
<line x1="255.07" y1="62.20" x2="258.87" y2="62.20" stroke="#ee44dd" stroke-width="1.0"/>
<line x1="271.55" y1="61.90" x2="271.55" y2="57.50" stroke="#ee44dd" stroke-width="0.9"/>
<line x1="269.65" y1="57.50" x2="273.45" y2="57.50" stroke="#ee44dd" stroke-width="1.0"/>
<line x1="290.99" y1="56.90" x2="290.99" y2="51.90" stroke="#ee44dd" stroke-width="0.9"/>
<line x1="289.09" y1="51.90" x2="292.89" y2="51.90" stroke="#ee44dd" stroke-width="1.0"/>
<line x1="305.57" y1="52.50" x2="305.57" y2="48.10" stroke="#ee44dd" stroke-width="0.9"/>
<line x1="303.67" y1="48.10" x2="307.47" y2="48.10" stroke="#ee44dd" stroke-width="1.0"/>
<polyline points="198.65,78.60 208.37,75.60 222.95,74.00 237.53,70.60 256.97,66.40 271.55,61.90 290.99,56.90 305.57,52.50" fill="none" stroke="#ee44dd" stroke-width="1.0" stroke-linejoin="miter"/>
<path d="M196.72,76.85L200.58,76.85L198.65,80.35Z" fill="#ee44dd"/>
<path d="M206.44,73.85L210.30,73.85L208.37,77.35Z" fill="#ee44dd"/>
<path d="M221.03,72.25L224.88,72.25L222.95,75.75Z" fill="#ee44dd"/>
<path d="M235.60,68.85L239.46,68.85L237.53,72.35Z" fill="#ee44dd"/>
<path d="M255.05,64.65L258.90,64.65L256.97,68.15Z" fill="#ee44dd"/>
<path d="M269.62,60.15L273.48,60.15L271.55,63.65Z" fill="#ee44dd"/>
<path d="M289.06,55.15L292.92,55.15L290.99,58.65Z" fill="#ee44dd"/>
<path d="M303.64,50.75L307.50,50.75L305.57,54.25Z" fill="#ee44dd"/>
<line x1="198.65" y1="78.60" x2="198.65" y2="77.00" stroke="#111" stroke-width="0.9"/>
<line x1="196.75" y1="77.00" x2="200.55" y2="77.00" stroke="#111" stroke-width="1.0"/>
<line x1="208.37" y1="77.25" x2="208.37" y2="75.00" stroke="#111" stroke-width="0.9"/>
<line x1="206.47" y1="75.00" x2="210.27" y2="75.00" stroke="#111" stroke-width="1.0"/>
<line x1="222.95" y1="65.60" x2="222.95" y2="62.00" stroke="#111" stroke-width="0.9"/>
<line x1="221.05" y1="62.00" x2="224.85" y2="62.00" stroke="#111" stroke-width="1.0"/>
<line x1="237.53" y1="58.10" x2="237.53" y2="54.40" stroke="#111" stroke-width="0.9"/>
<line x1="235.63" y1="54.40" x2="239.43" y2="54.40" stroke="#111" stroke-width="1.0"/>
<line x1="256.97" y1="53.40" x2="256.97" y2="48.60" stroke="#111" stroke-width="0.9"/>
<line x1="255.07" y1="48.60" x2="258.87" y2="48.60" stroke="#111" stroke-width="1.0"/>
<line x1="271.55" y1="46.90" x2="271.55" y2="39.50" stroke="#111" stroke-width="0.9"/>
<line x1="269.65" y1="39.50" x2="273.45" y2="39.50" stroke="#111" stroke-width="1.0"/>
<line x1="290.99" y1="37.40" x2="290.99" y2="29.40" stroke="#111" stroke-width="0.9"/>
<line x1="289.09" y1="29.40" x2="292.89" y2="29.40" stroke="#111" stroke-width="1.0"/>
<line x1="305.57" y1="27.25" x2="305.57" y2="16.90" stroke="#111" stroke-width="0.9"/>
<line x1="303.67" y1="16.90" x2="307.47" y2="16.90" stroke="#111" stroke-width="1.0"/>
<polyline points="198.65,78.60 208.37,77.25 222.95,65.60 237.53,58.10 256.97,53.40 271.55,46.90 290.99,37.40 305.57,27.25" fill="none" stroke="#111" stroke-width="1.0" stroke-linejoin="miter"/>
<path d="M196.81,76.76L200.49,80.44M196.81,80.44L200.49,76.76" stroke="#111" stroke-width="1.0"/>
<path d="M206.53,75.41L210.21,79.09M206.53,79.09L210.21,75.41" stroke="#111" stroke-width="1.0"/>
<path d="M221.11,63.76L224.79,67.44M221.11,67.44L224.79,63.76" stroke="#111" stroke-width="1.0"/>
<path d="M235.69,56.26L239.37,59.94M235.69,59.94L239.37,56.26" stroke="#111" stroke-width="1.0"/>
<path d="M255.13,51.56L258.81,55.24M255.13,55.24L258.81,51.56" stroke="#111" stroke-width="1.0"/>
<path d="M269.71,45.06L273.39,48.74M269.71,48.74L273.39,45.06" stroke="#111" stroke-width="1.0"/>
<path d="M289.15,35.56L292.83,39.24M289.15,39.24L292.83,35.56" stroke="#111" stroke-width="1.0"/>
<path d="M303.73,25.41L307.41,29.09M303.73,29.09L307.41,25.41" stroke="#111" stroke-width="1.0"/>
<text x="314.00" y="22.04" font-size="5.83" font-weight="normal" text-anchor="start" fill="#111" stroke="#111" stroke-width="0.06" textLength="9.08" lengthAdjust="spacingAndGlyphs">TGI</text>
<text x="312.50" y="51.74" font-size="6.4" font-weight="normal" text-anchor="start" fill="#ee44dd" stroke="#ee44dd" stroke-width="0.06" textLength="11.21" lengthAdjust="spacingAndGlyphs">49%</text>
<text x="312.50" y="58.04" font-size="6.4" font-weight="normal" text-anchor="start" fill="#4da3ff" stroke="#4da3ff" stroke-width="0.06" textLength="11.21" lengthAdjust="spacingAndGlyphs">53%</text>
<text x="311.80" y="77.94" font-size="6.4" font-weight="normal" text-anchor="start" fill="#1a1aff" stroke="#1a1aff" stroke-width="0.06" textLength="11.21" lengthAdjust="spacingAndGlyphs">96%</text>
<text x="311.40" y="87.44" font-size="6.4" font-weight="normal" text-anchor="start" fill="#ff1a1a" stroke="#ff1a1a" stroke-width="0.06" textLength="13.91" lengthAdjust="spacingAndGlyphs">110%</text>
<circle cx="329.15" cy="75.70" r="0.95" fill="#1a1aff"/>
<circle cx="332.25" cy="75.70" r="0.95" fill="#1a1aff"/>
<circle cx="327.95" cy="85.20" r="0.95" fill="#ff1a1a"/>
<circle cx="331.05" cy="85.20" r="0.95" fill="#ff1a1a"/>
<circle cx="334.15" cy="85.20" r="0.95" fill="#ff1a1a"/>
<text x="341.90" y="9.58" font-size="11.24" font-weight="bold" text-anchor="start" fill="#111" stroke="#111" stroke-width="0.22" textLength="7.58" lengthAdjust="spacingAndGlyphs">C</text>
<text x="427.00" y="8.21" font-size="8.03" font-weight="bold" text-anchor="middle" fill="#111" stroke="#111" stroke-width="0.2" textLength="37.52" lengthAdjust="spacingAndGlyphs">NCI-H1975</text>
<line x1="371.50" y1="16.00" x2="371.50" y2="91.30" stroke="#333" stroke-width="1.05"/>
<line x1="370.70" y1="90.50" x2="483.70" y2="90.50" stroke="#333" stroke-width="1.05"/>
<line x1="368.50" y1="90.60" x2="371.50" y2="90.60" stroke="#333" stroke-width="0.9"/>
<text x="368.60" y="92.91" font-size="6.6" font-weight="bold" text-anchor="end" fill="#111" stroke="#111" stroke-width="0.2" textLength="3.62" lengthAdjust="spacingAndGlyphs">0</text>
<line x1="368.50" y1="71.95" x2="371.50" y2="71.95" stroke="#333" stroke-width="0.9"/>
<text x="368.60" y="74.26" font-size="6.6" font-weight="bold" text-anchor="end" fill="#111" stroke="#111" stroke-width="0.2" textLength="10.85" lengthAdjust="spacingAndGlyphs">500</text>
<line x1="368.50" y1="53.30" x2="371.50" y2="53.30" stroke="#333" stroke-width="0.9"/>
<text x="368.60" y="55.61" font-size="6.6" font-weight="bold" text-anchor="end" fill="#111" stroke="#111" stroke-width="0.2" textLength="16.27" lengthAdjust="spacingAndGlyphs">1,000</text>
<line x1="368.50" y1="34.65" x2="371.50" y2="34.65" stroke="#333" stroke-width="0.9"/>
<text x="368.60" y="36.96" font-size="6.6" font-weight="bold" text-anchor="end" fill="#111" stroke="#111" stroke-width="0.2" textLength="16.27" lengthAdjust="spacingAndGlyphs">1,500</text>
<line x1="368.50" y1="16.00" x2="371.50" y2="16.00" stroke="#333" stroke-width="0.9"/>
<text x="368.60" y="18.31" font-size="6.6" font-weight="bold" text-anchor="end" fill="#111" stroke="#111" stroke-width="0.2" textLength="16.27" lengthAdjust="spacingAndGlyphs">2,000</text>
<line x1="371.50" y1="90.60" x2="371.50" y2="92.80" stroke="#333" stroke-width="0.9"/>
<text x="371.50" y="99.61" font-size="6.6" font-weight="bold" text-anchor="middle" fill="#111" stroke="#111" stroke-width="0.2" textLength="3.62" lengthAdjust="spacingAndGlyphs">1</text>
<line x1="381.17" y1="90.60" x2="381.17" y2="92.80" stroke="#333" stroke-width="0.9"/>
<text x="381.17" y="99.61" font-size="6.6" font-weight="bold" text-anchor="middle" fill="#111" stroke="#111" stroke-width="0.2" textLength="3.62" lengthAdjust="spacingAndGlyphs">3</text>
<line x1="395.67" y1="90.60" x2="395.67" y2="92.80" stroke="#333" stroke-width="0.9"/>
<text x="395.67" y="99.61" font-size="6.6" font-weight="bold" text-anchor="middle" fill="#111" stroke="#111" stroke-width="0.2" textLength="3.62" lengthAdjust="spacingAndGlyphs">6</text>
<line x1="405.33" y1="90.60" x2="405.33" y2="92.80" stroke="#333" stroke-width="0.9"/>
<text x="405.33" y="99.61" font-size="6.6" font-weight="bold" text-anchor="middle" fill="#111" stroke="#111" stroke-width="0.2" textLength="3.62" lengthAdjust="spacingAndGlyphs">8</text>
<line x1="415.00" y1="90.60" x2="415.00" y2="92.80" stroke="#333" stroke-width="0.9"/>
<text x="415.00" y="99.61" font-size="6.6" font-weight="bold" text-anchor="middle" fill="#111" stroke="#111" stroke-width="0.2" textLength="7.23" lengthAdjust="spacingAndGlyphs">10</text>
<line x1="429.50" y1="90.60" x2="429.50" y2="92.80" stroke="#333" stroke-width="0.9"/>
<text x="429.50" y="99.61" font-size="6.6" font-weight="bold" text-anchor="middle" fill="#111" stroke="#111" stroke-width="0.2" textLength="7.23" lengthAdjust="spacingAndGlyphs">13</text>
<line x1="439.16" y1="90.60" x2="439.16" y2="92.80" stroke="#333" stroke-width="0.9"/>
<text x="439.16" y="99.61" font-size="6.6" font-weight="bold" text-anchor="middle" fill="#111" stroke="#111" stroke-width="0.2" textLength="7.23" lengthAdjust="spacingAndGlyphs">15</text>
<line x1="448.83" y1="90.60" x2="448.83" y2="92.80" stroke="#333" stroke-width="0.9"/>
<text x="448.83" y="99.61" font-size="6.6" font-weight="bold" text-anchor="middle" fill="#111" stroke="#111" stroke-width="0.2" textLength="7.23" lengthAdjust="spacingAndGlyphs">17</text>
<line x1="463.33" y1="90.60" x2="463.33" y2="92.80" stroke="#333" stroke-width="0.9"/>
<text x="463.33" y="99.61" font-size="6.6" font-weight="bold" text-anchor="middle" fill="#111" stroke="#111" stroke-width="0.2" textLength="7.23" lengthAdjust="spacingAndGlyphs">20</text>
<line x1="472.99" y1="90.60" x2="472.99" y2="92.80" stroke="#333" stroke-width="0.9"/>
<text x="472.99" y="99.61" font-size="6.6" font-weight="bold" text-anchor="middle" fill="#111" stroke="#111" stroke-width="0.2" textLength="7.23" lengthAdjust="spacingAndGlyphs">22</text>
<text x="0" y="2.34" transform="translate(346.90,52.60) rotate(-90)" font-size="6.68" font-weight="bold" text-anchor="middle" fill="#111" stroke="#111" stroke-width="0.13" textLength="65.40" lengthAdjust="spacingAndGlyphs">Tumor volume (mm³)</text>
<text x="427.00" y="106.92" font-size="6.91" font-weight="bold" text-anchor="middle" fill="#111" stroke="#111" stroke-width="0.13" textLength="62.47" lengthAdjust="spacingAndGlyphs">Days after treatment</text>
<line x1="373.75" y1="16.25" x2="382.50" y2="16.25" stroke="#111" stroke-width="0.9"/>
<path d="M376.76,14.88L379.49,17.62M376.76,17.62L379.49,14.88" stroke="#111" stroke-width="1.0"/>
<text x="386.25" y="18.38" font-size="6.1" font-weight="normal" text-anchor="start" fill="#111" stroke="#111" stroke-width="0.06" textLength="17.57" lengthAdjust="spacingAndGlyphs">Vehicle</text>
<line x1="373.75" y1="24.60" x2="382.50" y2="24.60" stroke="#ff1a1a" stroke-width="0.9"/>
<circle cx="378.12" cy="24.60" r="1.30" fill="#ff1a1a"/>
<text x="386.25" y="26.73" font-size="6.1" font-weight="normal" text-anchor="start" fill="#111" stroke="#111" stroke-width="0.06" textLength="73.91" lengthAdjust="spacingAndGlyphs">OBI-992 3 mg/kg (single dose)</text>
<line x1="373.75" y1="33.10" x2="382.50" y2="33.10" stroke="#1a1aff" stroke-width="0.9"/>
<circle cx="378.12" cy="33.10" r="1.30" fill="#1a1aff"/>
<text x="386.25" y="35.23" font-size="6.1" font-weight="normal" text-anchor="start" fill="#111" stroke="#111" stroke-width="0.06" textLength="77.55" lengthAdjust="spacingAndGlyphs">Dato-DXd 3 mg/kg (single dose)</text>
<line x1="373.75" y1="40.60" x2="382.50" y2="40.60" stroke="#22bb22" stroke-width="0.9"/>
<path d="M376.69,39.30L379.56,39.30L378.12,41.90Z" fill="#22bb22"/>
<text x="386.25" y="42.73" font-size="6.1" font-weight="normal" text-anchor="start" fill="#111" stroke="#111" stroke-width="0.06" textLength="61.03" lengthAdjust="spacingAndGlyphs">SG 12.5 mg/kg (BIW × 4)</text>
<line x1="371.50" y1="83.50" x2="371.50" y2="82.50" stroke="#22bb22" stroke-width="0.9"/>
<line x1="369.60" y1="82.50" x2="373.40" y2="82.50" stroke="#22bb22" stroke-width="1.0"/>
<line x1="386.00" y1="80.00" x2="386.00" y2="78.50" stroke="#22bb22" stroke-width="0.9"/>
<line x1="384.10" y1="78.50" x2="387.90" y2="78.50" stroke="#22bb22" stroke-width="1.0"/>
<line x1="405.33" y1="75.25" x2="405.33" y2="73.50" stroke="#22bb22" stroke-width="0.9"/>
<line x1="403.43" y1="73.50" x2="407.23" y2="73.50" stroke="#22bb22" stroke-width="1.0"/>
<line x1="419.83" y1="75.00" x2="419.83" y2="72.50" stroke="#22bb22" stroke-width="0.9"/>
<line x1="417.93" y1="72.50" x2="421.73" y2="72.50" stroke="#22bb22" stroke-width="1.0"/>
<line x1="439.16" y1="72.50" x2="439.16" y2="68.25" stroke="#22bb22" stroke-width="0.9"/>
<line x1="437.26" y1="68.25" x2="441.06" y2="68.25" stroke="#22bb22" stroke-width="1.0"/>
<line x1="453.66" y1="67.50" x2="453.66" y2="59.50" stroke="#22bb22" stroke-width="0.9"/>
<line x1="451.76" y1="59.50" x2="455.56" y2="59.50" stroke="#22bb22" stroke-width="1.0"/>
<line x1="472.99" y1="57.75" x2="472.99" y2="51.90" stroke="#22bb22" stroke-width="0.9"/>
<line x1="471.09" y1="51.90" x2="474.89" y2="51.90" stroke="#22bb22" stroke-width="1.0"/>
<polyline points="371.50,83.50 386.00,80.00 405.33,75.25 419.83,75.00 439.16,72.50 453.66,67.50 472.99,57.75" fill="none" stroke="#22bb22" stroke-width="1.0" stroke-linejoin="miter"/>
<path d="M369.57,81.75L373.43,81.75L371.50,85.25Z" fill="#22bb22"/>
<path d="M384.07,78.25L387.92,78.25L386.00,81.75Z" fill="#22bb22"/>
<path d="M403.41,73.50L407.26,73.50L405.33,77.00Z" fill="#22bb22"/>
<path d="M417.90,73.25L421.75,73.25L419.83,76.75Z" fill="#22bb22"/>
<path d="M437.24,70.75L441.09,70.75L439.16,74.25Z" fill="#22bb22"/>
<path d="M451.74,65.75L455.59,65.75L453.66,69.25Z" fill="#22bb22"/>
<path d="M471.07,56.00L474.92,56.00L472.99,59.50Z" fill="#22bb22"/>
<line x1="371.50" y1="83.50" x2="371.50" y2="82.50" stroke="#1a1aff" stroke-width="0.9"/>
<line x1="369.60" y1="82.50" x2="373.40" y2="82.50" stroke="#1a1aff" stroke-width="1.0"/>
<line x1="386.00" y1="79.00" x2="386.00" y2="77.00" stroke="#1a1aff" stroke-width="0.9"/>
<line x1="384.10" y1="77.00" x2="387.90" y2="77.00" stroke="#1a1aff" stroke-width="1.0"/>
<line x1="405.33" y1="77.25" x2="405.33" y2="76.00" stroke="#1a1aff" stroke-width="0.9"/>
<line x1="403.43" y1="76.00" x2="407.23" y2="76.00" stroke="#1a1aff" stroke-width="1.0"/>
<line x1="419.83" y1="76.50" x2="419.83" y2="75.00" stroke="#1a1aff" stroke-width="0.9"/>
<line x1="417.93" y1="75.00" x2="421.73" y2="75.00" stroke="#1a1aff" stroke-width="1.0"/>
<line x1="439.16" y1="74.50" x2="439.16" y2="73.00" stroke="#1a1aff" stroke-width="0.9"/>
<line x1="437.26" y1="73.00" x2="441.06" y2="73.00" stroke="#1a1aff" stroke-width="1.0"/>
<line x1="453.66" y1="70.00" x2="453.66" y2="68.50" stroke="#1a1aff" stroke-width="0.9"/>
<line x1="451.76" y1="68.50" x2="455.56" y2="68.50" stroke="#1a1aff" stroke-width="1.0"/>
<line x1="472.99" y1="63.75" x2="472.99" y2="61.50" stroke="#1a1aff" stroke-width="0.9"/>
<line x1="471.09" y1="61.50" x2="474.89" y2="61.50" stroke="#1a1aff" stroke-width="1.0"/>
<polyline points="371.50,83.50 386.00,79.00 405.33,77.25 419.83,76.50 439.16,74.50 453.66,70.00 472.99,63.75" fill="none" stroke="#1a1aff" stroke-width="1.0" stroke-linejoin="miter"/>
<circle cx="371.50" cy="83.50" r="1.75" fill="#1a1aff"/>
<circle cx="386.00" cy="79.00" r="1.75" fill="#1a1aff"/>
<circle cx="405.33" cy="77.25" r="1.75" fill="#1a1aff"/>
<circle cx="419.83" cy="76.50" r="1.75" fill="#1a1aff"/>
<circle cx="439.16" cy="74.50" r="1.75" fill="#1a1aff"/>
<circle cx="453.66" cy="70.00" r="1.75" fill="#1a1aff"/>
<circle cx="472.99" cy="63.75" r="1.75" fill="#1a1aff"/>
<line x1="371.50" y1="83.50" x2="371.50" y2="82.50" stroke="#ff1a1a" stroke-width="0.9"/>
<line x1="369.60" y1="82.50" x2="373.40" y2="82.50" stroke="#ff1a1a" stroke-width="1.0"/>
<line x1="386.00" y1="81.00" x2="386.00" y2="80.00" stroke="#ff1a1a" stroke-width="0.9"/>
<line x1="384.10" y1="80.00" x2="387.90" y2="80.00" stroke="#ff1a1a" stroke-width="1.0"/>
<line x1="405.33" y1="80.50" x2="405.33" y2="79.50" stroke="#ff1a1a" stroke-width="0.9"/>
<line x1="403.43" y1="79.50" x2="407.23" y2="79.50" stroke="#ff1a1a" stroke-width="1.0"/>
<line x1="419.83" y1="81.80" x2="419.83" y2="80.50" stroke="#ff1a1a" stroke-width="0.9"/>
<line x1="417.93" y1="80.50" x2="421.73" y2="80.50" stroke="#ff1a1a" stroke-width="1.0"/>
<line x1="439.16" y1="83.80" x2="439.16" y2="82.50" stroke="#ff1a1a" stroke-width="0.9"/>
<line x1="437.26" y1="82.50" x2="441.06" y2="82.50" stroke="#ff1a1a" stroke-width="1.0"/>
<line x1="453.66" y1="83.40" x2="453.66" y2="82.00" stroke="#ff1a1a" stroke-width="0.9"/>
<line x1="451.76" y1="82.00" x2="455.56" y2="82.00" stroke="#ff1a1a" stroke-width="1.0"/>
<line x1="472.99" y1="81.30" x2="472.99" y2="80.00" stroke="#ff1a1a" stroke-width="0.9"/>
<line x1="471.09" y1="80.00" x2="474.89" y2="80.00" stroke="#ff1a1a" stroke-width="1.0"/>
<polyline points="371.50,83.50 386.00,81.00 405.33,80.50 419.83,81.80 439.16,83.80 453.66,83.40 472.99,81.30" fill="none" stroke="#ff1a1a" stroke-width="1.0" stroke-linejoin="miter"/>
<rect x="369.93" y="81.92" width="3.15" height="3.15" fill="#ff1a1a"/>
<rect x="384.42" y="79.42" width="3.15" height="3.15" fill="#ff1a1a"/>
<rect x="403.76" y="78.92" width="3.15" height="3.15" fill="#ff1a1a"/>
<rect x="418.25" y="80.22" width="3.15" height="3.15" fill="#ff1a1a"/>
<rect x="437.59" y="82.22" width="3.15" height="3.15" fill="#ff1a1a"/>
<rect x="452.09" y="81.83" width="3.15" height="3.15" fill="#ff1a1a"/>
<rect x="471.42" y="79.72" width="3.15" height="3.15" fill="#ff1a1a"/>
<line x1="371.50" y1="83.50" x2="371.50" y2="82.50" stroke="#111" stroke-width="0.9"/>
<line x1="369.60" y1="82.50" x2="373.40" y2="82.50" stroke="#111" stroke-width="1.0"/>
<line x1="386.00" y1="80.60" x2="386.00" y2="79.00" stroke="#111" stroke-width="0.9"/>
<line x1="384.10" y1="79.00" x2="387.90" y2="79.00" stroke="#111" stroke-width="1.0"/>
<line x1="405.33" y1="77.00" x2="405.33" y2="75.00" stroke="#111" stroke-width="0.9"/>
<line x1="403.43" y1="75.00" x2="407.23" y2="75.00" stroke="#111" stroke-width="1.0"/>
<line x1="419.83" y1="71.00" x2="419.83" y2="68.50" stroke="#111" stroke-width="0.9"/>
<line x1="417.93" y1="68.50" x2="421.73" y2="68.50" stroke="#111" stroke-width="1.0"/>
<line x1="439.16" y1="64.00" x2="439.16" y2="60.60" stroke="#111" stroke-width="0.9"/>
<line x1="437.26" y1="60.60" x2="441.06" y2="60.60" stroke="#111" stroke-width="1.0"/>
<line x1="453.66" y1="55.00" x2="453.66" y2="51.00" stroke="#111" stroke-width="0.9"/>
<line x1="451.76" y1="51.00" x2="455.56" y2="51.00" stroke="#111" stroke-width="1.0"/>
<line x1="472.99" y1="41.25" x2="472.99" y2="32.50" stroke="#111" stroke-width="0.9"/>
<line x1="471.09" y1="32.50" x2="474.89" y2="32.50" stroke="#111" stroke-width="1.0"/>
<polyline points="371.50,83.50 386.00,80.60 405.33,77.00 419.83,71.00 439.16,64.00 453.66,55.00 472.99,41.25" fill="none" stroke="#111" stroke-width="1.0" stroke-linejoin="miter"/>
<path d="M369.66,81.66L373.34,85.34M369.66,85.34L373.34,81.66" stroke="#111" stroke-width="1.0"/>
<path d="M384.16,78.76L387.84,82.44M384.16,82.44L387.84,78.76" stroke="#111" stroke-width="1.0"/>
<path d="M403.49,75.16L407.17,78.84M403.49,78.84L407.17,75.16" stroke="#111" stroke-width="1.0"/>
<path d="M417.99,69.16L421.67,72.84M417.99,72.84L421.67,69.16" stroke="#111" stroke-width="1.0"/>
<path d="M437.32,62.16L441.00,65.84M437.32,65.84L441.00,62.16" stroke="#111" stroke-width="1.0"/>
<path d="M451.82,53.16L455.50,56.84M451.82,56.84L455.50,53.16" stroke="#111" stroke-width="1.0"/>
<path d="M471.16,39.41L474.83,43.09M471.16,43.09L474.83,39.41" stroke="#111" stroke-width="1.0"/>
<text x="481.25" y="24.04" font-size="5.83" font-weight="normal" text-anchor="start" fill="#111" stroke="#111" stroke-width="0.06" textLength="9.08" lengthAdjust="spacingAndGlyphs">TGI</text>
<text x="480.20" y="58.74" font-size="6.4" font-weight="normal" text-anchor="start" fill="#22bb22" stroke="#22bb22" stroke-width="0.06" textLength="11.21" lengthAdjust="spacingAndGlyphs">39%</text>
<text x="480.20" y="66.14" font-size="6.4" font-weight="normal" text-anchor="start" fill="#1a1aff" stroke="#1a1aff" stroke-width="0.06" textLength="11.21" lengthAdjust="spacingAndGlyphs">52%</text>
<text x="480.20" y="82.44" font-size="6.4" font-weight="normal" text-anchor="start" fill="#ff1a1a" stroke="#ff1a1a" stroke-width="0.06" textLength="11.21" lengthAdjust="spacingAndGlyphs">96%</text>
<circle cx="495.45" cy="80.20" r="0.95" fill="#ff1a1a"/>
<circle cx="498.55" cy="80.20" r="0.95" fill="#ff1a1a"/>
<path d="M502.00,63.30H505.00V79.60H502.00" fill="none" stroke="#444" stroke-width="0.9"/>
<circle cx="509.15" cy="72.20" r="0.95" fill="#222"/>
<path d="M511.10,56.50H513.70V79.60H511.10" fill="none" stroke="#444" stroke-width="0.9"/>
<circle cx="518.3" cy="67.4" r="0.75" fill="#222"/><circle cx="518.3" cy="70.4" r="0.75" fill="#222"/>
<text x="1.00" y="126.13" font-size="11.24" font-weight="bold" text-anchor="start" fill="#111" stroke="#111" stroke-width="0.22" textLength="7.58" lengthAdjust="spacingAndGlyphs">D</text>
<text x="98.00" y="125.01" font-size="8.03" font-weight="bold" text-anchor="middle" fill="#111" stroke="#111" stroke-width="0.2" textLength="46.25" lengthAdjust="spacingAndGlyphs">MDA-MB-231</text>
<line x1="30.50" y1="133.75" x2="30.50" y2="209.30" stroke="#333" stroke-width="1.05"/>
<line x1="29.70" y1="208.50" x2="142.30" y2="208.50" stroke="#333" stroke-width="1.05"/>
<line x1="27.00" y1="208.30" x2="30.00" y2="208.30" stroke="#333" stroke-width="0.9"/>
<text x="27.10" y="210.61" font-size="6.6" font-weight="bold" text-anchor="end" fill="#111" stroke="#111" stroke-width="0.2" textLength="3.62" lengthAdjust="spacingAndGlyphs">0</text>
<line x1="27.00" y1="197.65" x2="30.00" y2="197.65" stroke="#333" stroke-width="0.9"/>
<text x="27.10" y="199.96" font-size="6.6" font-weight="bold" text-anchor="end" fill="#111" stroke="#111" stroke-width="0.2" textLength="10.85" lengthAdjust="spacingAndGlyphs">200</text>
<line x1="27.00" y1="187.00" x2="30.00" y2="187.00" stroke="#333" stroke-width="0.9"/>
<text x="27.10" y="189.31" font-size="6.6" font-weight="bold" text-anchor="end" fill="#111" stroke="#111" stroke-width="0.2" textLength="10.85" lengthAdjust="spacingAndGlyphs">400</text>
<line x1="27.00" y1="176.35" x2="30.00" y2="176.35" stroke="#333" stroke-width="0.9"/>
<text x="27.10" y="178.66" font-size="6.6" font-weight="bold" text-anchor="end" fill="#111" stroke="#111" stroke-width="0.2" textLength="10.85" lengthAdjust="spacingAndGlyphs">600</text>
<line x1="27.00" y1="165.70" x2="30.00" y2="165.70" stroke="#333" stroke-width="0.9"/>
<text x="27.10" y="168.01" font-size="6.6" font-weight="bold" text-anchor="end" fill="#111" stroke="#111" stroke-width="0.2" textLength="10.85" lengthAdjust="spacingAndGlyphs">800</text>
<line x1="27.00" y1="155.05" x2="30.00" y2="155.05" stroke="#333" stroke-width="0.9"/>
<text x="27.10" y="157.36" font-size="6.6" font-weight="bold" text-anchor="end" fill="#111" stroke="#111" stroke-width="0.2" textLength="16.27" lengthAdjust="spacingAndGlyphs">1,000</text>
<line x1="27.00" y1="144.40" x2="30.00" y2="144.40" stroke="#333" stroke-width="0.9"/>
<text x="27.10" y="146.71" font-size="6.6" font-weight="bold" text-anchor="end" fill="#111" stroke="#111" stroke-width="0.2" textLength="16.27" lengthAdjust="spacingAndGlyphs">1,200</text>
<line x1="27.00" y1="133.75" x2="30.00" y2="133.75" stroke="#333" stroke-width="0.9"/>
<text x="27.10" y="136.06" font-size="6.6" font-weight="bold" text-anchor="end" fill="#111" stroke="#111" stroke-width="0.2" textLength="16.27" lengthAdjust="spacingAndGlyphs">1,400</text>
<line x1="30.00" y1="208.30" x2="30.00" y2="210.50" stroke="#333" stroke-width="0.9"/>
<text x="30.00" y="217.01" font-size="6.6" font-weight="bold" text-anchor="middle" fill="#111" stroke="#111" stroke-width="0.2" textLength="3.62" lengthAdjust="spacingAndGlyphs">1</text>
<line x1="44.64" y1="208.30" x2="44.64" y2="210.50" stroke="#333" stroke-width="0.9"/>
<text x="44.64" y="217.01" font-size="6.6" font-weight="bold" text-anchor="middle" fill="#111" stroke="#111" stroke-width="0.2" textLength="3.62" lengthAdjust="spacingAndGlyphs">4</text>
<line x1="59.28" y1="208.30" x2="59.28" y2="210.50" stroke="#333" stroke-width="0.9"/>
<text x="59.28" y="217.01" font-size="6.6" font-weight="bold" text-anchor="middle" fill="#111" stroke="#111" stroke-width="0.2" textLength="3.62" lengthAdjust="spacingAndGlyphs">7</text>
<line x1="73.92" y1="208.30" x2="73.92" y2="210.50" stroke="#333" stroke-width="0.9"/>
<text x="73.92" y="217.01" font-size="6.6" font-weight="bold" text-anchor="middle" fill="#111" stroke="#111" stroke-width="0.2" textLength="7.23" lengthAdjust="spacingAndGlyphs">10</text>
<line x1="93.44" y1="208.30" x2="93.44" y2="210.50" stroke="#333" stroke-width="0.9"/>
<text x="93.44" y="217.01" font-size="6.6" font-weight="bold" text-anchor="middle" fill="#111" stroke="#111" stroke-width="0.2" textLength="7.23" lengthAdjust="spacingAndGlyphs">14</text>
<line x1="108.08" y1="208.30" x2="108.08" y2="210.50" stroke="#333" stroke-width="0.9"/>
<text x="108.08" y="217.01" font-size="6.6" font-weight="bold" text-anchor="middle" fill="#111" stroke="#111" stroke-width="0.2" textLength="7.23" lengthAdjust="spacingAndGlyphs">17</text>
<line x1="132.48" y1="208.30" x2="132.48" y2="210.50" stroke="#333" stroke-width="0.9"/>
<text x="132.48" y="217.01" font-size="6.6" font-weight="bold" text-anchor="middle" fill="#111" stroke="#111" stroke-width="0.2" textLength="7.23" lengthAdjust="spacingAndGlyphs">22</text>
<text x="0" y="2.34" transform="translate(5.20,169.60) rotate(-90)" font-size="6.68" font-weight="bold" text-anchor="middle" fill="#111" stroke="#111" stroke-width="0.13" textLength="67.00" lengthAdjust="spacingAndGlyphs">Tumor volume (mm³)</text>
<text x="87.00" y="224.34" font-size="6.7" font-weight="bold" text-anchor="middle" fill="#111" textLength="63.00" lengthAdjust="spacingAndGlyphs">Days after treatment</text>
<line x1="160.00" y1="132.10" x2="168.75" y2="132.10" stroke="#111" stroke-width="0.9"/>
<path d="M163.01,130.73L165.74,133.47M163.01,133.47L165.74,130.73" stroke="#111" stroke-width="1.0"/>
<text x="171.00" y="134.23" font-size="6.1" font-weight="normal" text-anchor="start" fill="#111" stroke="#111" stroke-width="0.06" textLength="17.57" lengthAdjust="spacingAndGlyphs">Vehicle</text>
<line x1="160.00" y1="140.20" x2="168.75" y2="140.20" stroke="#ff1a1a" stroke-width="0.9"/>
<circle cx="164.38" cy="140.20" r="1.30" fill="#ff1a1a"/>
<text x="171.00" y="142.33" font-size="6.1" font-weight="normal" text-anchor="start" fill="#111" stroke="#111" stroke-width="0.06" textLength="76.95" lengthAdjust="spacingAndGlyphs">OBI-992 10 mg/kg (single dose)</text>
<line x1="160.00" y1="148.30" x2="168.75" y2="148.30" stroke="#1a1aff" stroke-width="0.9"/>
<circle cx="164.38" cy="148.30" r="1.30" fill="#1a1aff"/>
<text x="171.00" y="150.43" font-size="6.1" font-weight="normal" text-anchor="start" fill="#111" stroke="#111" stroke-width="0.06" textLength="80.58" lengthAdjust="spacingAndGlyphs">Dato-DXd 10 mg/kg (single dose)</text>
<line x1="160.00" y1="156.40" x2="168.75" y2="156.40" stroke="#ee44dd" stroke-width="0.9"/>
<path d="M162.94,155.10L165.81,155.10L164.38,157.70Z" fill="#ee44dd"/>
<text x="171.00" y="158.53" font-size="6.1" font-weight="normal" text-anchor="start" fill="#111" stroke="#111" stroke-width="0.06" textLength="73.91" lengthAdjust="spacingAndGlyphs">OBI-992 1 mg/kg (single dose)</text>
<line x1="160.00" y1="164.50" x2="168.75" y2="164.50" stroke="#4da3ff" stroke-width="0.9"/>
<path d="M164.38,162.94L165.68,164.50L164.38,166.06L163.07,164.50Z" fill="#4da3ff"/>
<text x="171.00" y="166.63" font-size="6.1" font-weight="normal" text-anchor="start" fill="#111" stroke="#111" stroke-width="0.06" textLength="77.55" lengthAdjust="spacingAndGlyphs">Dato-DXd 1 mg/kg (single dose)</text>
<line x1="160.00" y1="172.60" x2="168.75" y2="172.60" stroke="#22bb22" stroke-width="0.9"/>
<path d="M162.94,171.30L165.81,171.30L164.38,173.90Z" fill="#22bb22"/>
<text x="171.00" y="174.73" font-size="6.1" font-weight="normal" text-anchor="start" fill="#111" stroke="#111" stroke-width="0.06" textLength="61.03" lengthAdjust="spacingAndGlyphs">SG 12.5 mg/kg (BIW × 4)</text>
<line x1="30.00" y1="196.25" x2="30.00" y2="194.50" stroke="#22bb22" stroke-width="0.9"/>
<line x1="28.10" y1="194.50" x2="31.90" y2="194.50" stroke="#22bb22" stroke-width="1.0"/>
<line x1="44.64" y1="197.25" x2="44.64" y2="196.00" stroke="#22bb22" stroke-width="0.9"/>
<line x1="42.74" y1="196.00" x2="46.54" y2="196.00" stroke="#22bb22" stroke-width="1.0"/>
<line x1="59.28" y1="196.00" x2="59.28" y2="195.00" stroke="#22bb22" stroke-width="0.9"/>
<line x1="57.38" y1="195.00" x2="61.18" y2="195.00" stroke="#22bb22" stroke-width="1.0"/>
<line x1="73.92" y1="196.50" x2="73.92" y2="194.40" stroke="#22bb22" stroke-width="0.9"/>
<line x1="72.02" y1="194.40" x2="75.82" y2="194.40" stroke="#22bb22" stroke-width="1.0"/>
<line x1="93.44" y1="195.60" x2="93.44" y2="194.00" stroke="#22bb22" stroke-width="0.9"/>
<line x1="91.54" y1="194.00" x2="95.34" y2="194.00" stroke="#22bb22" stroke-width="1.0"/>
<line x1="108.08" y1="195.25" x2="108.08" y2="194.00" stroke="#22bb22" stroke-width="0.9"/>
<line x1="106.18" y1="194.00" x2="109.98" y2="194.00" stroke="#22bb22" stroke-width="1.0"/>
<line x1="132.48" y1="195.00" x2="132.48" y2="193.10" stroke="#22bb22" stroke-width="0.9"/>
<line x1="130.58" y1="193.10" x2="134.38" y2="193.10" stroke="#22bb22" stroke-width="1.0"/>
<polyline points="30.00,196.25 44.64,197.25 59.28,196.00 73.92,196.50 93.44,195.60 108.08,195.25 132.48,195.00" fill="none" stroke="#22bb22" stroke-width="1.0" stroke-linejoin="miter"/>
<path d="M28.07,194.50L31.93,194.50L30.00,198.00Z" fill="#22bb22"/>
<path d="M42.72,195.50L46.56,195.50L44.64,199.00Z" fill="#22bb22"/>
<path d="M57.36,194.25L61.20,194.25L59.28,197.75Z" fill="#22bb22"/>
<path d="M72.00,194.75L75.84,194.75L73.92,198.25Z" fill="#22bb22"/>
<path d="M91.52,193.85L95.36,193.85L93.44,197.35Z" fill="#22bb22"/>
<path d="M106.16,193.50L110.00,193.50L108.08,197.00Z" fill="#22bb22"/>
<path d="M130.56,193.25L134.41,193.25L132.48,196.75Z" fill="#22bb22"/>
<line x1="30.00" y1="199.00" x2="30.00" y2="198.00" stroke="#ee44dd" stroke-width="0.9"/>
<line x1="28.10" y1="198.00" x2="31.90" y2="198.00" stroke="#ee44dd" stroke-width="1.0"/>
<line x1="44.64" y1="197.50" x2="44.64" y2="196.50" stroke="#ee44dd" stroke-width="0.9"/>
<line x1="42.74" y1="196.50" x2="46.54" y2="196.50" stroke="#ee44dd" stroke-width="1.0"/>
<line x1="59.28" y1="197.50" x2="59.28" y2="196.00" stroke="#ee44dd" stroke-width="0.9"/>
<line x1="57.38" y1="196.00" x2="61.18" y2="196.00" stroke="#ee44dd" stroke-width="1.0"/>
<line x1="73.92" y1="197.25" x2="73.92" y2="195.00" stroke="#ee44dd" stroke-width="0.9"/>
<line x1="72.02" y1="195.00" x2="75.82" y2="195.00" stroke="#ee44dd" stroke-width="1.0"/>
<line x1="93.44" y1="193.10" x2="93.44" y2="186.90" stroke="#ee44dd" stroke-width="0.9"/>
<line x1="91.54" y1="186.90" x2="95.34" y2="186.90" stroke="#ee44dd" stroke-width="1.0"/>
<line x1="108.08" y1="190.00" x2="108.08" y2="185.60" stroke="#ee44dd" stroke-width="0.9"/>
<line x1="106.18" y1="185.60" x2="109.98" y2="185.60" stroke="#ee44dd" stroke-width="1.0"/>
<line x1="132.48" y1="185.00" x2="132.48" y2="177.50" stroke="#ee44dd" stroke-width="0.9"/>
<line x1="130.58" y1="177.50" x2="134.38" y2="177.50" stroke="#ee44dd" stroke-width="1.0"/>
<polyline points="30.00,199.00 44.64,197.50 59.28,197.50 73.92,197.25 93.44,193.10 108.08,190.00 132.48,185.00" fill="none" stroke="#ee44dd" stroke-width="1.0" stroke-linejoin="miter"/>
<path d="M28.07,197.25L31.93,197.25L30.00,200.75Z" fill="#ee44dd"/>
<path d="M42.72,195.75L46.56,195.75L44.64,199.25Z" fill="#ee44dd"/>
<path d="M57.36,195.75L61.20,195.75L59.28,199.25Z" fill="#ee44dd"/>
<path d="M72.00,195.50L75.84,195.50L73.92,199.00Z" fill="#ee44dd"/>
<path d="M91.52,191.35L95.36,191.35L93.44,194.85Z" fill="#ee44dd"/>
<path d="M106.16,188.25L110.00,188.25L108.08,191.75Z" fill="#ee44dd"/>
<path d="M130.56,183.25L134.41,183.25L132.48,186.75Z" fill="#ee44dd"/>
<line x1="30.00" y1="200.60" x2="30.00" y2="199.00" stroke="#ff1a1a" stroke-width="0.9"/>
<line x1="28.10" y1="199.00" x2="31.90" y2="199.00" stroke="#ff1a1a" stroke-width="1.0"/>
<line x1="44.64" y1="197.25" x2="44.64" y2="193.75" stroke="#ff1a1a" stroke-width="0.9"/>
<line x1="42.74" y1="193.75" x2="46.54" y2="193.75" stroke="#ff1a1a" stroke-width="1.0"/>
<line x1="59.28" y1="198.10" x2="59.28" y2="196.00" stroke="#ff1a1a" stroke-width="0.9"/>
<line x1="57.38" y1="196.00" x2="61.18" y2="196.00" stroke="#ff1a1a" stroke-width="1.0"/>
<line x1="73.92" y1="199.75" x2="73.92" y2="198.00" stroke="#ff1a1a" stroke-width="0.9"/>
<line x1="72.02" y1="198.00" x2="75.82" y2="198.00" stroke="#ff1a1a" stroke-width="1.0"/>
<line x1="93.44" y1="199.75" x2="93.44" y2="198.00" stroke="#ff1a1a" stroke-width="0.9"/>
<line x1="91.54" y1="198.00" x2="95.34" y2="198.00" stroke="#ff1a1a" stroke-width="1.0"/>
<line x1="108.08" y1="201.90" x2="108.08" y2="200.00" stroke="#ff1a1a" stroke-width="0.9"/>
<line x1="106.18" y1="200.00" x2="109.98" y2="200.00" stroke="#ff1a1a" stroke-width="1.0"/>
<line x1="132.48" y1="200.25" x2="132.48" y2="199.00" stroke="#ff1a1a" stroke-width="0.9"/>
<line x1="130.58" y1="199.00" x2="134.38" y2="199.00" stroke="#ff1a1a" stroke-width="1.0"/>
<polyline points="30.00,200.60 44.64,197.25 59.28,198.10 73.92,199.75 93.44,199.75 108.08,201.90 132.48,200.25" fill="none" stroke="#ff1a1a" stroke-width="1.0" stroke-linejoin="miter"/>
<rect x="28.43" y="199.03" width="3.15" height="3.15" fill="#ff1a1a"/>
<rect x="43.06" y="195.68" width="3.15" height="3.15" fill="#ff1a1a"/>
<rect x="57.70" y="196.53" width="3.15" height="3.15" fill="#ff1a1a"/>
<rect x="72.34" y="198.18" width="3.15" height="3.15" fill="#ff1a1a"/>
<rect x="91.86" y="198.18" width="3.15" height="3.15" fill="#ff1a1a"/>
<rect x="106.50" y="200.33" width="3.15" height="3.15" fill="#ff1a1a"/>
<rect x="130.91" y="198.68" width="3.15" height="3.15" fill="#ff1a1a"/>
<line x1="30.00" y1="199.40" x2="30.00" y2="198.50" stroke="#1a1aff" stroke-width="0.9"/>
<line x1="28.10" y1="198.50" x2="31.90" y2="198.50" stroke="#1a1aff" stroke-width="1.0"/>
<line x1="44.64" y1="199.75" x2="44.64" y2="198.50" stroke="#1a1aff" stroke-width="0.9"/>
<line x1="42.74" y1="198.50" x2="46.54" y2="198.50" stroke="#1a1aff" stroke-width="1.0"/>
<line x1="59.28" y1="200.25" x2="59.28" y2="199.00" stroke="#1a1aff" stroke-width="0.9"/>
<line x1="57.38" y1="199.00" x2="61.18" y2="199.00" stroke="#1a1aff" stroke-width="1.0"/>
<line x1="73.92" y1="200.00" x2="73.92" y2="199.00" stroke="#1a1aff" stroke-width="0.9"/>
<line x1="72.02" y1="199.00" x2="75.82" y2="199.00" stroke="#1a1aff" stroke-width="1.0"/>
<line x1="93.44" y1="201.90" x2="93.44" y2="200.50" stroke="#1a1aff" stroke-width="0.9"/>
<line x1="91.54" y1="200.50" x2="95.34" y2="200.50" stroke="#1a1aff" stroke-width="1.0"/>
<line x1="108.08" y1="201.00" x2="108.08" y2="200.00" stroke="#1a1aff" stroke-width="0.9"/>
<line x1="106.18" y1="200.00" x2="109.98" y2="200.00" stroke="#1a1aff" stroke-width="1.0"/>
<line x1="132.48" y1="199.75" x2="132.48" y2="198.50" stroke="#1a1aff" stroke-width="0.9"/>
<line x1="130.58" y1="198.50" x2="134.38" y2="198.50" stroke="#1a1aff" stroke-width="1.0"/>
<polyline points="30.00,199.40 44.64,199.75 59.28,200.25 73.92,200.00 93.44,201.90 108.08,201.00 132.48,199.75" fill="none" stroke="#1a1aff" stroke-width="1.0" stroke-linejoin="miter"/>
<circle cx="30.00" cy="199.40" r="1.75" fill="#1a1aff"/>
<circle cx="44.64" cy="199.75" r="1.75" fill="#1a1aff"/>
<circle cx="59.28" cy="200.25" r="1.75" fill="#1a1aff"/>
<circle cx="73.92" cy="200.00" r="1.75" fill="#1a1aff"/>
<circle cx="93.44" cy="201.90" r="1.75" fill="#1a1aff"/>
<circle cx="108.08" cy="201.00" r="1.75" fill="#1a1aff"/>
<circle cx="132.48" cy="199.75" r="1.75" fill="#1a1aff"/>
<line x1="30.00" y1="198.00" x2="30.00" y2="197.00" stroke="#4da3ff" stroke-width="0.9"/>
<line x1="28.10" y1="197.00" x2="31.90" y2="197.00" stroke="#4da3ff" stroke-width="1.0"/>
<line x1="44.64" y1="197.25" x2="44.64" y2="196.00" stroke="#4da3ff" stroke-width="0.9"/>
<line x1="42.74" y1="196.00" x2="46.54" y2="196.00" stroke="#4da3ff" stroke-width="1.0"/>
<line x1="59.28" y1="193.50" x2="59.28" y2="190.60" stroke="#4da3ff" stroke-width="0.9"/>
<line x1="57.38" y1="190.60" x2="61.18" y2="190.60" stroke="#4da3ff" stroke-width="1.0"/>
<line x1="73.92" y1="185.90" x2="73.92" y2="178.75" stroke="#4da3ff" stroke-width="0.9"/>
<line x1="72.02" y1="178.75" x2="75.82" y2="178.75" stroke="#4da3ff" stroke-width="1.0"/>
<line x1="93.44" y1="182.90" x2="93.44" y2="176.00" stroke="#4da3ff" stroke-width="0.9"/>
<line x1="91.54" y1="176.00" x2="95.34" y2="176.00" stroke="#4da3ff" stroke-width="1.0"/>
<line x1="108.08" y1="173.75" x2="108.08" y2="165.60" stroke="#4da3ff" stroke-width="0.9"/>
<line x1="106.18" y1="165.60" x2="109.98" y2="165.60" stroke="#4da3ff" stroke-width="1.0"/>
<line x1="132.48" y1="156.60" x2="132.48" y2="141.80" stroke="#4da3ff" stroke-width="0.9"/>
<line x1="130.58" y1="141.80" x2="134.38" y2="141.80" stroke="#4da3ff" stroke-width="1.0"/>
<polyline points="30.00,198.00 44.64,197.25 59.28,193.50 73.92,185.90 93.44,182.90 108.08,173.75 132.48,156.60" fill="none" stroke="#4da3ff" stroke-width="1.0" stroke-linejoin="miter"/>
<path d="M28.07,196.25L31.93,196.25L30.00,199.75Z" fill="#4da3ff"/>
<path d="M42.72,195.50L46.56,195.50L44.64,199.00Z" fill="#4da3ff"/>
<path d="M57.36,191.75L61.20,191.75L59.28,195.25Z" fill="#4da3ff"/>
<path d="M72.00,184.15L75.84,184.15L73.92,187.65Z" fill="#4da3ff"/>
<path d="M91.52,181.15L95.36,181.15L93.44,184.65Z" fill="#4da3ff"/>
<path d="M106.16,172.00L110.00,172.00L108.08,175.50Z" fill="#4da3ff"/>
<path d="M130.56,154.85L134.41,154.85L132.48,158.35Z" fill="#4da3ff"/>
<line x1="30.00" y1="199.40" x2="30.00" y2="198.00" stroke="#111" stroke-width="0.9"/>
<line x1="28.10" y1="198.00" x2="31.90" y2="198.00" stroke="#111" stroke-width="1.0"/>
<line x1="44.64" y1="197.25" x2="44.64" y2="195.00" stroke="#111" stroke-width="0.9"/>
<line x1="42.74" y1="195.00" x2="46.54" y2="195.00" stroke="#111" stroke-width="1.0"/>
<line x1="59.28" y1="195.00" x2="59.28" y2="193.00" stroke="#111" stroke-width="0.9"/>
<line x1="57.38" y1="193.00" x2="61.18" y2="193.00" stroke="#111" stroke-width="1.0"/>
<line x1="73.92" y1="190.00" x2="73.92" y2="187.00" stroke="#111" stroke-width="0.9"/>
<line x1="72.02" y1="187.00" x2="75.82" y2="187.00" stroke="#111" stroke-width="1.0"/>
<line x1="93.44" y1="183.75" x2="93.44" y2="181.00" stroke="#111" stroke-width="0.9"/>
<line x1="91.54" y1="181.00" x2="95.34" y2="181.00" stroke="#111" stroke-width="1.0"/>
<line x1="108.08" y1="164.80" x2="108.08" y2="159.40" stroke="#111" stroke-width="0.9"/>
<line x1="106.18" y1="159.40" x2="109.98" y2="159.40" stroke="#111" stroke-width="1.0"/>
<line x1="132.48" y1="151.25" x2="132.48" y2="139.50" stroke="#111" stroke-width="0.9"/>
<line x1="130.58" y1="139.50" x2="134.38" y2="139.50" stroke="#111" stroke-width="1.0"/>
<polyline points="30.00,199.40 44.64,197.25 59.28,195.00 73.92,190.00 93.44,183.75 108.08,164.80 132.48,151.25" fill="none" stroke="#111" stroke-width="1.0" stroke-linejoin="miter"/>
<path d="M28.16,197.56L31.84,201.24M28.16,201.24L31.84,197.56" stroke="#111" stroke-width="1.0"/>
<path d="M42.80,195.41L46.48,199.09M42.80,199.09L46.48,195.41" stroke="#111" stroke-width="1.0"/>
<path d="M57.44,193.16L61.12,196.84M57.44,196.84L61.12,193.16" stroke="#111" stroke-width="1.0"/>
<path d="M72.08,188.16L75.76,191.84M72.08,191.84L75.76,188.16" stroke="#111" stroke-width="1.0"/>
<path d="M91.60,181.91L95.28,185.59M91.60,185.59L95.28,181.91" stroke="#111" stroke-width="1.0"/>
<path d="M106.24,162.96L109.92,166.64M106.24,166.64L109.92,162.96" stroke="#111" stroke-width="1.0"/>
<path d="M130.64,149.41L134.32,153.09M130.64,153.09L134.32,149.41" stroke="#111" stroke-width="1.0"/>
<text x="142.00" y="145.74" font-size="5.83" font-weight="normal" text-anchor="start" fill="#111" stroke="#111" stroke-width="0.06" textLength="9.08" lengthAdjust="spacingAndGlyphs">TGI</text>
<text x="140.90" y="156.84" font-size="6.4" font-weight="normal" text-anchor="start" fill="#4da3ff" stroke="#4da3ff" stroke-width="0.06" textLength="11.21" lengthAdjust="spacingAndGlyphs">12%</text>
<text x="141.00" y="182.44" font-size="6.4" font-weight="normal" text-anchor="start" fill="#ee44dd" stroke="#ee44dd" stroke-width="0.06" textLength="11.21" lengthAdjust="spacingAndGlyphs">73%</text>
<text x="141.00" y="195.54" font-size="6.4" font-weight="normal" text-anchor="start" fill="#22bb22" stroke="#22bb22" stroke-width="0.06" textLength="11.21" lengthAdjust="spacingAndGlyphs">96%</text>
<text x="138.30" y="202.04" font-size="6.4" font-weight="normal" text-anchor="start" fill="#1a1aff" stroke="#1a1aff" stroke-width="0.06" textLength="14.32" lengthAdjust="spacingAndGlyphs">102%</text>
<text x="138.30" y="207.24" font-size="6.4" font-weight="normal" text-anchor="start" fill="#ff1a1a" stroke="#ff1a1a" stroke-width="0.06" textLength="14.32" lengthAdjust="spacingAndGlyphs">100%</text>
<circle cx="155.95" cy="180.20" r="0.95" fill="#ee44dd"/>
<circle cx="155.25" cy="193.30" r="0.95" fill="#22bb22"/>
<circle cx="158.35" cy="193.30" r="0.95" fill="#22bb22"/>
<circle cx="155.25" cy="199.80" r="0.95" fill="#1a1aff"/>
<circle cx="158.35" cy="199.80" r="0.95" fill="#1a1aff"/>
<circle cx="155.95" cy="205.00" r="0.95" fill="#ff1a1a"/>
<text x="271.25" y="126.13" font-size="11.24" font-weight="bold" text-anchor="start" fill="#111" stroke="#111" stroke-width="0.22" textLength="7.00" lengthAdjust="spacingAndGlyphs">E</text>
<text x="356.90" y="125.31" font-size="8.03" font-weight="bold" text-anchor="middle" fill="#111" stroke="#111" stroke-width="0.2" textLength="26.68" lengthAdjust="spacingAndGlyphs">BxPC-3</text>
<line x1="302.50" y1="133.75" x2="302.50" y2="209.30" stroke="#777" stroke-width="1.7"/>
<line x1="301.70" y1="208.50" x2="414.25" y2="208.50" stroke="#333" stroke-width="1.05"/>
<line x1="299.50" y1="208.00" x2="302.50" y2="208.00" stroke="#777" stroke-width="0.9"/>
<text x="299.60" y="210.31" font-size="6.6" font-weight="bold" text-anchor="end" fill="#111" stroke="#111" stroke-width="0.2" textLength="3.62" lengthAdjust="spacingAndGlyphs">0</text>
<line x1="299.50" y1="197.39" x2="302.50" y2="197.39" stroke="#777" stroke-width="0.9"/>
<text x="299.60" y="199.70" font-size="6.6" font-weight="bold" text-anchor="end" fill="#111" stroke="#111" stroke-width="0.2" textLength="10.85" lengthAdjust="spacingAndGlyphs">250</text>
<line x1="299.50" y1="186.78" x2="302.50" y2="186.78" stroke="#777" stroke-width="0.9"/>
<text x="299.60" y="189.09" font-size="6.6" font-weight="bold" text-anchor="end" fill="#111" stroke="#111" stroke-width="0.2" textLength="10.85" lengthAdjust="spacingAndGlyphs">500</text>
<line x1="299.50" y1="176.18" x2="302.50" y2="176.18" stroke="#777" stroke-width="0.9"/>
<text x="299.60" y="178.49" font-size="6.6" font-weight="bold" text-anchor="end" fill="#111" stroke="#111" stroke-width="0.2" textLength="10.85" lengthAdjust="spacingAndGlyphs">750</text>
<line x1="299.50" y1="165.57" x2="302.50" y2="165.57" stroke="#777" stroke-width="0.9"/>
<text x="299.60" y="167.88" font-size="6.6" font-weight="bold" text-anchor="end" fill="#111" stroke="#111" stroke-width="0.2" textLength="16.27" lengthAdjust="spacingAndGlyphs">1,000</text>
<line x1="299.50" y1="154.96" x2="302.50" y2="154.96" stroke="#777" stroke-width="0.9"/>
<text x="299.60" y="157.27" font-size="6.6" font-weight="bold" text-anchor="end" fill="#111" stroke="#111" stroke-width="0.2" textLength="16.27" lengthAdjust="spacingAndGlyphs">1,250</text>
<line x1="299.50" y1="144.35" x2="302.50" y2="144.35" stroke="#777" stroke-width="0.9"/>
<text x="299.60" y="146.66" font-size="6.6" font-weight="bold" text-anchor="end" fill="#111" stroke="#111" stroke-width="0.2" textLength="16.27" lengthAdjust="spacingAndGlyphs">1,500</text>
<line x1="299.50" y1="133.75" x2="302.50" y2="133.75" stroke="#777" stroke-width="0.9"/>
<text x="299.60" y="136.06" font-size="6.6" font-weight="bold" text-anchor="end" fill="#111" stroke="#111" stroke-width="0.2" textLength="16.27" lengthAdjust="spacingAndGlyphs">1,750</text>
<line x1="302.50" y1="208.00" x2="302.50" y2="210.20" stroke="#333" stroke-width="0.9"/>
<text x="302.50" y="216.91" font-size="6.6" font-weight="bold" text-anchor="middle" fill="#111" stroke="#111" stroke-width="0.2" textLength="3.62" lengthAdjust="spacingAndGlyphs">1</text>
<line x1="309.67" y1="208.00" x2="309.67" y2="210.20" stroke="#333" stroke-width="0.9"/>
<text x="309.67" y="216.91" font-size="6.6" font-weight="bold" text-anchor="middle" fill="#111" stroke="#111" stroke-width="0.2" textLength="3.62" lengthAdjust="spacingAndGlyphs">3</text>
<line x1="324.00" y1="208.00" x2="324.00" y2="210.20" stroke="#333" stroke-width="0.9"/>
<text x="324.00" y="216.91" font-size="6.6" font-weight="bold" text-anchor="middle" fill="#111" stroke="#111" stroke-width="0.2" textLength="3.62" lengthAdjust="spacingAndGlyphs">7</text>
<line x1="334.75" y1="208.00" x2="334.75" y2="210.20" stroke="#333" stroke-width="0.9"/>
<text x="334.75" y="216.91" font-size="6.6" font-weight="bold" text-anchor="middle" fill="#111" stroke="#111" stroke-width="0.2" textLength="7.23" lengthAdjust="spacingAndGlyphs">10</text>
<line x1="349.08" y1="208.00" x2="349.08" y2="210.20" stroke="#333" stroke-width="0.9"/>
<text x="349.08" y="216.91" font-size="6.6" font-weight="bold" text-anchor="middle" fill="#111" stroke="#111" stroke-width="0.2" textLength="7.23" lengthAdjust="spacingAndGlyphs">14</text>
<line x1="359.83" y1="208.00" x2="359.83" y2="210.20" stroke="#333" stroke-width="0.9"/>
<text x="359.83" y="216.91" font-size="6.6" font-weight="bold" text-anchor="middle" fill="#111" stroke="#111" stroke-width="0.2" textLength="7.23" lengthAdjust="spacingAndGlyphs">17</text>
<line x1="374.16" y1="208.00" x2="374.16" y2="210.20" stroke="#333" stroke-width="0.9"/>
<text x="374.16" y="216.91" font-size="6.6" font-weight="bold" text-anchor="middle" fill="#111" stroke="#111" stroke-width="0.2" textLength="7.23" lengthAdjust="spacingAndGlyphs">21</text>
<line x1="384.91" y1="208.00" x2="384.91" y2="210.20" stroke="#333" stroke-width="0.9"/>
<text x="384.91" y="216.91" font-size="6.6" font-weight="bold" text-anchor="middle" fill="#111" stroke="#111" stroke-width="0.2" textLength="7.23" lengthAdjust="spacingAndGlyphs">24</text>
<line x1="399.24" y1="208.00" x2="399.24" y2="210.20" stroke="#333" stroke-width="0.9"/>
<text x="399.24" y="216.91" font-size="6.6" font-weight="bold" text-anchor="middle" fill="#111" stroke="#111" stroke-width="0.2" textLength="7.23" lengthAdjust="spacingAndGlyphs">28</text>
<text x="0" y="2.34" transform="translate(276.00,170.00) rotate(-90)" font-size="6.68" font-weight="bold" text-anchor="middle" fill="#111" stroke="#111" stroke-width="0.13" textLength="67.00" lengthAdjust="spacingAndGlyphs">Tumor volume (mm³)</text>
<text x="357.50" y="224.34" font-size="6.7" font-weight="bold" text-anchor="middle" fill="#111" textLength="62.70" lengthAdjust="spacingAndGlyphs">Days after treatment</text>
<line x1="405.50" y1="128.75" x2="413.75" y2="128.75" stroke="#111" stroke-width="0.9"/>
<path d="M408.26,127.39L410.99,130.12M408.26,130.12L410.99,127.39" stroke="#111" stroke-width="1.0"/>
<text x="418.00" y="130.88" font-size="6.1" font-weight="normal" text-anchor="start" fill="#111" stroke="#111" stroke-width="0.06" textLength="17.57" lengthAdjust="spacingAndGlyphs">Vehicle</text>
<line x1="405.50" y1="136.85" x2="413.75" y2="136.85" stroke="#ff1a1a" stroke-width="0.9"/>
<circle cx="409.62" cy="136.85" r="1.30" fill="#ff1a1a"/>
<text x="418.00" y="138.98" font-size="6.1" font-weight="normal" text-anchor="start" fill="#111" stroke="#111" stroke-width="0.06" textLength="44.23" lengthAdjust="spacingAndGlyphs">OBI-992 10 mg/kg</text>
<line x1="405.50" y1="144.95" x2="413.75" y2="144.95" stroke="#1a1aff" stroke-width="0.9"/>
<circle cx="409.62" cy="144.95" r="1.30" fill="#1a1aff"/>
<text x="418.00" y="147.08" font-size="6.1" font-weight="normal" text-anchor="start" fill="#111" stroke="#111" stroke-width="0.06" textLength="47.86" lengthAdjust="spacingAndGlyphs">Dato-DXd 10 mg/kg</text>
<line x1="405.50" y1="153.05" x2="413.75" y2="153.05" stroke="#ee44dd" stroke-width="0.9"/>
<path d="M408.19,151.75L411.06,151.75L409.62,154.35Z" fill="#ee44dd"/>
<text x="418.00" y="155.19" font-size="6.1" font-weight="normal" text-anchor="start" fill="#111" stroke="#111" stroke-width="0.06" textLength="41.20" lengthAdjust="spacingAndGlyphs">OBI-992 3 mg/kg</text>
<line x1="405.50" y1="161.15" x2="413.75" y2="161.15" stroke="#4da3ff" stroke-width="0.9"/>
<path d="M409.62,159.59L410.93,161.15L409.62,162.71L408.32,161.15Z" fill="#4da3ff"/>
<text x="418.00" y="163.28" font-size="6.1" font-weight="normal" text-anchor="start" fill="#111" stroke="#111" stroke-width="0.06" textLength="44.83" lengthAdjust="spacingAndGlyphs">Dato-DXd 3 mg/kg</text>
<text x="407.00" y="172.24" font-size="5.83" font-weight="normal" text-anchor="start" fill="#111" stroke="#111" stroke-width="0.06" textLength="58.47" lengthAdjust="spacingAndGlyphs">(All groups: single dose)</text>
<line x1="302.50" y1="187.00" x2="302.50" y2="185.00" stroke="#ff1a1a" stroke-width="0.9"/>
<line x1="300.60" y1="185.00" x2="304.40" y2="185.00" stroke="#ff1a1a" stroke-width="1.0"/>
<line x1="309.67" y1="182.80" x2="309.67" y2="182.00" stroke="#ff1a1a" stroke-width="0.9"/>
<line x1="307.77" y1="182.00" x2="311.57" y2="182.00" stroke="#ff1a1a" stroke-width="1.0"/>
<line x1="324.00" y1="183.10" x2="324.00" y2="181.00" stroke="#ff1a1a" stroke-width="0.9"/>
<line x1="322.10" y1="181.00" x2="325.90" y2="181.00" stroke="#ff1a1a" stroke-width="1.0"/>
<line x1="334.75" y1="184.10" x2="334.75" y2="182.50" stroke="#ff1a1a" stroke-width="0.9"/>
<line x1="332.85" y1="182.50" x2="336.65" y2="182.50" stroke="#ff1a1a" stroke-width="1.0"/>
<line x1="349.08" y1="187.25" x2="349.08" y2="184.75" stroke="#ff1a1a" stroke-width="0.9"/>
<line x1="347.18" y1="184.75" x2="350.98" y2="184.75" stroke="#ff1a1a" stroke-width="1.0"/>
<line x1="359.83" y1="188.10" x2="359.83" y2="185.60" stroke="#ff1a1a" stroke-width="0.9"/>
<line x1="357.93" y1="185.60" x2="361.73" y2="185.60" stroke="#ff1a1a" stroke-width="1.0"/>
<line x1="374.16" y1="187.50" x2="374.16" y2="182.30" stroke="#ff1a1a" stroke-width="0.9"/>
<line x1="372.26" y1="182.30" x2="376.06" y2="182.30" stroke="#ff1a1a" stroke-width="1.0"/>
<line x1="384.91" y1="185.20" x2="384.91" y2="179.00" stroke="#ff1a1a" stroke-width="0.9"/>
<line x1="383.01" y1="179.00" x2="386.81" y2="179.00" stroke="#ff1a1a" stroke-width="1.0"/>
<line x1="399.24" y1="182.60" x2="399.24" y2="175.50" stroke="#ff1a1a" stroke-width="0.9"/>
<line x1="397.34" y1="175.50" x2="401.14" y2="175.50" stroke="#ff1a1a" stroke-width="1.0"/>
<polyline points="302.50,187.00 309.67,182.80 324.00,183.10 334.75,184.10 349.08,187.25 359.83,188.10 374.16,187.50 384.91,185.20 399.24,182.60" fill="none" stroke="#ff1a1a" stroke-width="1.0" stroke-linejoin="miter"/>
<rect x="300.93" y="185.43" width="3.15" height="3.15" fill="#ff1a1a"/>
<rect x="308.09" y="181.23" width="3.15" height="3.15" fill="#ff1a1a"/>
<rect x="322.42" y="181.53" width="3.15" height="3.15" fill="#ff1a1a"/>
<rect x="333.17" y="182.53" width="3.15" height="3.15" fill="#ff1a1a"/>
<rect x="347.50" y="185.68" width="3.15" height="3.15" fill="#ff1a1a"/>
<rect x="358.25" y="186.53" width="3.15" height="3.15" fill="#ff1a1a"/>
<rect x="372.58" y="185.93" width="3.15" height="3.15" fill="#ff1a1a"/>
<rect x="383.33" y="183.62" width="3.15" height="3.15" fill="#ff1a1a"/>
<rect x="397.67" y="181.03" width="3.15" height="3.15" fill="#ff1a1a"/>
<line x1="302.50" y1="186.00" x2="302.50" y2="185.00" stroke="#ee44dd" stroke-width="0.9"/>
<line x1="300.60" y1="185.00" x2="304.40" y2="185.00" stroke="#ee44dd" stroke-width="1.0"/>
<line x1="309.67" y1="180.50" x2="309.67" y2="180.00" stroke="#ee44dd" stroke-width="0.9"/>
<line x1="307.77" y1="180.00" x2="311.57" y2="180.00" stroke="#ee44dd" stroke-width="1.0"/>
<line x1="324.00" y1="180.00" x2="324.00" y2="180.00" stroke="#ee44dd" stroke-width="0.9"/>
<line x1="322.10" y1="180.00" x2="325.90" y2="180.00" stroke="#ee44dd" stroke-width="1.0"/>
<line x1="334.75" y1="180.00" x2="334.75" y2="179.00" stroke="#ee44dd" stroke-width="0.9"/>
<line x1="332.85" y1="179.00" x2="336.65" y2="179.00" stroke="#ee44dd" stroke-width="1.0"/>
<line x1="349.08" y1="180.00" x2="349.08" y2="178.00" stroke="#ee44dd" stroke-width="0.9"/>
<line x1="347.18" y1="178.00" x2="350.98" y2="178.00" stroke="#ee44dd" stroke-width="1.0"/>
<line x1="359.83" y1="179.75" x2="359.83" y2="177.50" stroke="#ee44dd" stroke-width="0.9"/>
<line x1="357.93" y1="177.50" x2="361.73" y2="177.50" stroke="#ee44dd" stroke-width="1.0"/>
<line x1="374.16" y1="175.60" x2="374.16" y2="169.40" stroke="#ee44dd" stroke-width="0.9"/>
<line x1="372.26" y1="169.40" x2="376.06" y2="169.40" stroke="#ee44dd" stroke-width="1.0"/>
<line x1="384.91" y1="169.75" x2="384.91" y2="163.75" stroke="#ee44dd" stroke-width="0.9"/>
<line x1="383.01" y1="163.75" x2="386.81" y2="163.75" stroke="#ee44dd" stroke-width="1.0"/>
<polyline points="302.50,186.00 309.67,180.50 324.00,180.00 334.75,180.00 349.08,180.00 359.83,179.75 374.16,175.60 384.91,169.75" fill="none" stroke="#ee44dd" stroke-width="1.0" stroke-linejoin="miter"/>
<path d="M300.57,184.25L304.43,184.25L302.50,187.75Z" fill="#ee44dd"/>
<path d="M307.74,178.75L311.59,178.75L309.67,182.25Z" fill="#ee44dd"/>
<path d="M322.07,178.25L325.92,178.25L324.00,181.75Z" fill="#ee44dd"/>
<path d="M332.82,178.25L336.67,178.25L334.75,181.75Z" fill="#ee44dd"/>
<path d="M347.15,178.25L351.00,178.25L349.08,181.75Z" fill="#ee44dd"/>
<path d="M357.90,178.00L361.75,178.00L359.83,181.50Z" fill="#ee44dd"/>
<path d="M372.23,173.85L376.08,173.85L374.16,177.35Z" fill="#ee44dd"/>
<path d="M382.98,168.00L386.83,168.00L384.91,171.50Z" fill="#ee44dd"/>
<line x1="302.50" y1="185.50" x2="302.50" y2="185.00" stroke="#1a1aff" stroke-width="0.9"/>
<line x1="300.60" y1="185.00" x2="304.40" y2="185.00" stroke="#1a1aff" stroke-width="1.0"/>
<line x1="309.67" y1="178.60" x2="309.67" y2="177.00" stroke="#1a1aff" stroke-width="0.9"/>
<line x1="307.77" y1="177.00" x2="311.57" y2="177.00" stroke="#1a1aff" stroke-width="1.0"/>
<line x1="324.00" y1="181.20" x2="324.00" y2="179.00" stroke="#1a1aff" stroke-width="0.9"/>
<line x1="322.10" y1="179.00" x2="325.90" y2="179.00" stroke="#1a1aff" stroke-width="1.0"/>
<line x1="334.75" y1="179.40" x2="334.75" y2="177.50" stroke="#1a1aff" stroke-width="0.9"/>
<line x1="332.85" y1="177.50" x2="336.65" y2="177.50" stroke="#1a1aff" stroke-width="1.0"/>
<line x1="349.08" y1="177.50" x2="349.08" y2="175.25" stroke="#1a1aff" stroke-width="0.9"/>
<line x1="347.18" y1="175.25" x2="350.98" y2="175.25" stroke="#1a1aff" stroke-width="1.0"/>
<line x1="359.83" y1="174.20" x2="359.83" y2="171.90" stroke="#1a1aff" stroke-width="0.9"/>
<line x1="357.93" y1="171.90" x2="361.73" y2="171.90" stroke="#1a1aff" stroke-width="1.0"/>
<line x1="374.16" y1="166.00" x2="374.16" y2="162.50" stroke="#1a1aff" stroke-width="0.9"/>
<line x1="372.26" y1="162.50" x2="376.06" y2="162.50" stroke="#1a1aff" stroke-width="1.0"/>
<line x1="384.91" y1="156.50" x2="384.91" y2="152.75" stroke="#1a1aff" stroke-width="0.9"/>
<line x1="383.01" y1="152.75" x2="386.81" y2="152.75" stroke="#1a1aff" stroke-width="1.0"/>
<polyline points="302.50,185.50 309.67,178.60 324.00,181.20 334.75,179.40 349.08,177.50 359.83,174.20 374.16,166.00 384.91,156.50" fill="none" stroke="#1a1aff" stroke-width="1.0" stroke-linejoin="miter"/>
<circle cx="302.50" cy="185.50" r="1.75" fill="#1a1aff"/>
<circle cx="309.67" cy="178.60" r="1.75" fill="#1a1aff"/>
<circle cx="324.00" cy="181.20" r="1.75" fill="#1a1aff"/>
<circle cx="334.75" cy="179.40" r="1.75" fill="#1a1aff"/>
<circle cx="349.08" cy="177.50" r="1.75" fill="#1a1aff"/>
<circle cx="359.83" cy="174.20" r="1.75" fill="#1a1aff"/>
<circle cx="374.16" cy="166.00" r="1.75" fill="#1a1aff"/>
<circle cx="384.91" cy="156.50" r="1.75" fill="#1a1aff"/>
<line x1="302.50" y1="185.50" x2="302.50" y2="185.00" stroke="#4da3ff" stroke-width="0.9"/>
<line x1="300.60" y1="185.00" x2="304.40" y2="185.00" stroke="#4da3ff" stroke-width="1.0"/>
<line x1="309.67" y1="178.50" x2="309.67" y2="177.00" stroke="#4da3ff" stroke-width="0.9"/>
<line x1="307.77" y1="177.00" x2="311.57" y2="177.00" stroke="#4da3ff" stroke-width="1.0"/>
<line x1="324.00" y1="175.60" x2="324.00" y2="173.50" stroke="#4da3ff" stroke-width="0.9"/>
<line x1="322.10" y1="173.50" x2="325.90" y2="173.50" stroke="#4da3ff" stroke-width="1.0"/>
<line x1="334.75" y1="171.00" x2="334.75" y2="168.75" stroke="#4da3ff" stroke-width="0.9"/>
<line x1="332.85" y1="168.75" x2="336.65" y2="168.75" stroke="#4da3ff" stroke-width="1.0"/>
<line x1="349.08" y1="167.25" x2="349.08" y2="163.50" stroke="#4da3ff" stroke-width="0.9"/>
<line x1="347.18" y1="163.50" x2="350.98" y2="163.50" stroke="#4da3ff" stroke-width="1.0"/>
<line x1="359.83" y1="160.60" x2="359.83" y2="155.00" stroke="#4da3ff" stroke-width="0.9"/>
<line x1="357.93" y1="155.00" x2="361.73" y2="155.00" stroke="#4da3ff" stroke-width="1.0"/>
<polyline points="302.50,185.50 309.67,178.50 324.00,175.60 334.75,171.00 349.08,167.25 359.83,160.60" fill="none" stroke="#4da3ff" stroke-width="1.0" stroke-linejoin="miter"/>
<path d="M300.57,183.75L304.43,183.75L302.50,187.25Z" fill="#4da3ff"/>
<path d="M307.74,176.75L311.59,176.75L309.67,180.25Z" fill="#4da3ff"/>
<path d="M322.07,173.85L325.92,173.85L324.00,177.35Z" fill="#4da3ff"/>
<path d="M332.82,169.25L336.67,169.25L334.75,172.75Z" fill="#4da3ff"/>
<path d="M347.15,165.50L351.00,165.50L349.08,169.00Z" fill="#4da3ff"/>
<path d="M357.90,158.85L361.75,158.85L359.83,162.35Z" fill="#4da3ff"/>
<line x1="302.50" y1="185.50" x2="302.50" y2="185.00" stroke="#111" stroke-width="0.9"/>
<line x1="300.60" y1="185.00" x2="304.40" y2="185.00" stroke="#111" stroke-width="1.0"/>
<line x1="309.67" y1="176.25" x2="309.67" y2="174.00" stroke="#111" stroke-width="0.9"/>
<line x1="307.77" y1="174.00" x2="311.57" y2="174.00" stroke="#111" stroke-width="1.0"/>
<line x1="324.00" y1="165.10" x2="324.00" y2="161.90" stroke="#111" stroke-width="0.9"/>
<line x1="322.10" y1="161.90" x2="325.90" y2="161.90" stroke="#111" stroke-width="1.0"/>
<line x1="334.75" y1="156.25" x2="334.75" y2="152.50" stroke="#111" stroke-width="0.9"/>
<line x1="332.85" y1="152.50" x2="336.65" y2="152.50" stroke="#111" stroke-width="1.0"/>
<line x1="349.08" y1="144.40" x2="349.08" y2="138.50" stroke="#111" stroke-width="0.9"/>
<line x1="347.18" y1="138.50" x2="350.98" y2="138.50" stroke="#111" stroke-width="1.0"/>
<polyline points="302.50,185.50 309.67,176.25 324.00,165.10 334.75,156.25 349.08,144.40" fill="none" stroke="#111" stroke-width="1.0" stroke-linejoin="miter"/>
<path d="M300.66,183.66L304.34,187.34M300.66,187.34L304.34,183.66" stroke="#111" stroke-width="1.0"/>
<path d="M307.83,174.41L311.50,178.09M307.83,178.09L311.50,174.41" stroke="#111" stroke-width="1.0"/>
<path d="M322.16,163.26L325.84,166.94M322.16,166.94L325.84,163.26" stroke="#111" stroke-width="1.0"/>
<path d="M332.91,154.41L336.58,158.09M332.91,158.09L336.58,154.41" stroke="#111" stroke-width="1.0"/>
<path d="M347.24,142.56L350.92,146.24M347.24,146.24L350.92,142.56" stroke="#111" stroke-width="1.0"/>
<text x="1.25" y="245.33" font-size="11.24" font-weight="bold" text-anchor="start" fill="#111" stroke="#111" stroke-width="0.22" textLength="6.41" lengthAdjust="spacingAndGlyphs">F</text>
<text x="88.25" y="244.01" font-size="8.03" font-weight="bold" text-anchor="middle" fill="#111" stroke="#111" stroke-width="0.2" textLength="61.27" lengthAdjust="spacingAndGlyphs">BxPC-3 10 mg/kg</text>
<line x1="32.80" y1="252.25" x2="32.80" y2="327.80" stroke="#777" stroke-width="1.7"/>
<line x1="32.00" y1="327.00" x2="145.00" y2="327.00" stroke="#777" stroke-width="1.7"/>
<line x1="29.80" y1="327.00" x2="32.80" y2="327.00" stroke="#777" stroke-width="0.9"/>
<text x="29.90" y="329.31" font-size="6.6" font-weight="bold" text-anchor="end" fill="#111" stroke="#111" stroke-width="0.2" textLength="3.62" lengthAdjust="spacingAndGlyphs">0</text>
<line x1="29.80" y1="313.50" x2="32.80" y2="313.50" stroke="#777" stroke-width="0.9"/>
<text x="29.90" y="315.81" font-size="6.6" font-weight="bold" text-anchor="end" fill="#111" stroke="#111" stroke-width="0.2" textLength="7.23" lengthAdjust="spacingAndGlyphs">20</text>
<line x1="29.80" y1="300.00" x2="32.80" y2="300.00" stroke="#777" stroke-width="0.9"/>
<text x="29.90" y="302.31" font-size="6.6" font-weight="bold" text-anchor="end" fill="#111" stroke="#111" stroke-width="0.2" textLength="7.23" lengthAdjust="spacingAndGlyphs">40</text>
<line x1="29.80" y1="286.50" x2="32.80" y2="286.50" stroke="#777" stroke-width="0.9"/>
<text x="29.90" y="288.81" font-size="6.6" font-weight="bold" text-anchor="end" fill="#111" stroke="#111" stroke-width="0.2" textLength="7.23" lengthAdjust="spacingAndGlyphs">60</text>
<line x1="29.80" y1="273.00" x2="32.80" y2="273.00" stroke="#777" stroke-width="0.9"/>
<text x="29.90" y="275.31" font-size="6.6" font-weight="bold" text-anchor="end" fill="#111" stroke="#111" stroke-width="0.2" textLength="7.23" lengthAdjust="spacingAndGlyphs">80</text>
<line x1="29.80" y1="259.50" x2="32.80" y2="259.50" stroke="#777" stroke-width="0.9"/>
<text x="29.90" y="261.81" font-size="6.6" font-weight="bold" text-anchor="end" fill="#111" stroke="#111" stroke-width="0.2" textLength="10.85" lengthAdjust="spacingAndGlyphs">100</text>
<line x1="35.79" y1="327.00" x2="35.79" y2="329.20" stroke="#777" stroke-width="0.9"/>
<text x="35.79" y="335.91" font-size="6.6" font-weight="bold" text-anchor="middle" fill="#111" stroke="#111" stroke-width="0.2" textLength="3.62" lengthAdjust="spacingAndGlyphs">1</text>
<line x1="41.37" y1="327.00" x2="41.37" y2="329.20" stroke="#777" stroke-width="0.9"/>
<text x="41.37" y="335.91" font-size="6.6" font-weight="bold" text-anchor="middle" fill="#111" stroke="#111" stroke-width="0.2" textLength="3.62" lengthAdjust="spacingAndGlyphs">3</text>
<line x1="52.53" y1="327.00" x2="52.53" y2="329.20" stroke="#777" stroke-width="0.9"/>
<text x="52.53" y="335.91" font-size="6.6" font-weight="bold" text-anchor="middle" fill="#111" stroke="#111" stroke-width="0.2" textLength="3.62" lengthAdjust="spacingAndGlyphs">7</text>
<line x1="60.90" y1="327.00" x2="60.90" y2="329.20" stroke="#777" stroke-width="0.9"/>
<text x="60.90" y="335.91" font-size="6.6" font-weight="bold" text-anchor="middle" fill="#111" stroke="#111" stroke-width="0.2" textLength="7.23" lengthAdjust="spacingAndGlyphs">10</text>
<line x1="72.06" y1="327.00" x2="72.06" y2="329.20" stroke="#777" stroke-width="0.9"/>
<text x="72.06" y="335.91" font-size="6.6" font-weight="bold" text-anchor="middle" fill="#111" stroke="#111" stroke-width="0.2" textLength="7.23" lengthAdjust="spacingAndGlyphs">14</text>
<line x1="80.43" y1="327.00" x2="80.43" y2="329.20" stroke="#777" stroke-width="0.9"/>
<text x="80.43" y="335.91" font-size="6.6" font-weight="bold" text-anchor="middle" fill="#111" stroke="#111" stroke-width="0.2" textLength="7.23" lengthAdjust="spacingAndGlyphs">17</text>
<line x1="91.59" y1="327.00" x2="91.59" y2="329.20" stroke="#777" stroke-width="0.9"/>
<text x="91.59" y="335.91" font-size="6.6" font-weight="bold" text-anchor="middle" fill="#111" stroke="#111" stroke-width="0.2" textLength="7.23" lengthAdjust="spacingAndGlyphs">21</text>
<line x1="99.96" y1="327.00" x2="99.96" y2="329.20" stroke="#777" stroke-width="0.9"/>
<text x="99.96" y="335.91" font-size="6.6" font-weight="bold" text-anchor="middle" fill="#111" stroke="#111" stroke-width="0.2" textLength="7.23" lengthAdjust="spacingAndGlyphs">24</text>
<line x1="111.12" y1="327.00" x2="111.12" y2="329.20" stroke="#777" stroke-width="0.9"/>
<text x="111.12" y="335.91" font-size="6.6" font-weight="bold" text-anchor="middle" fill="#111" stroke="#111" stroke-width="0.2" textLength="7.23" lengthAdjust="spacingAndGlyphs">28</text>
<line x1="119.49" y1="327.00" x2="119.49" y2="329.20" stroke="#777" stroke-width="0.9"/>
<text x="119.49" y="335.91" font-size="6.6" font-weight="bold" text-anchor="middle" fill="#111" stroke="#111" stroke-width="0.2" textLength="7.23" lengthAdjust="spacingAndGlyphs">31</text>
<line x1="130.65" y1="327.00" x2="130.65" y2="329.20" stroke="#777" stroke-width="0.9"/>
<text x="130.65" y="335.91" font-size="6.6" font-weight="bold" text-anchor="middle" fill="#111" stroke="#111" stroke-width="0.2" textLength="7.23" lengthAdjust="spacingAndGlyphs">35</text>
<text x="0" y="2.55" transform="translate(15.00,290.20) rotate(-90)" font-size="7.3" font-weight="normal" text-anchor="middle" fill="#111" stroke="#111" stroke-width="0.28" textLength="62.00" lengthAdjust="spacingAndGlyphs">Percent survival (%)</text>
<text x="88.75" y="343.42" font-size="6.91" font-weight="bold" text-anchor="middle" fill="#111" stroke="#111" stroke-width="0.13" textLength="62.47" lengthAdjust="spacingAndGlyphs">Days after treatment</text>
<polyline points="32.80,259.50 99.96,259.50 99.96,293.25 111.12,293.25 111.12,327.00" fill="none" stroke="#1a1aff" stroke-width="1.2" stroke-linejoin="miter"/>
<polyline points="32.80,259.50 119.49,259.50 119.49,270.77 130.65,270.77" fill="none" stroke="#ff1a1a" stroke-width="1.25" stroke-dasharray="1.6,1.5" stroke-linejoin="miter"/>
<polyline points="32.80,259.50 60.90,259.50 60.90,281.98 72.06,281.98 72.06,293.25 80.43,293.25 80.43,315.73 111.12,315.73 111.12,327.00" fill="none" stroke="#222" stroke-width="1.25" stroke-dasharray="1.6,1.5" stroke-linejoin="miter"/>
<line x1="138.10" y1="258.10" x2="139.70" y2="258.10" stroke="#222" stroke-width="1.0"/>
<line x1="144.00" y1="258.10" x2="145.60" y2="258.10" stroke="#222" stroke-width="1.0"/>
<path d="M140.55,258.70L143.15,258.70L141.85,256.90Z" fill="#222"/>
<text x="150.25" y="260.24" font-size="6.1" font-weight="normal" text-anchor="start" fill="#111" stroke="#111" stroke-width="0.06" textLength="17.57" lengthAdjust="spacingAndGlyphs">Vehicle</text>
<line x1="138.10" y1="266.00" x2="139.70" y2="266.00" stroke="#ff1a1a" stroke-width="1.0"/>
<line x1="144.00" y1="266.00" x2="145.60" y2="266.00" stroke="#ff1a1a" stroke-width="1.0"/>
<path d="M140.55,266.60L143.15,266.60L141.85,264.80Z" fill="#ff1a1a"/>
<text x="150.25" y="268.13" font-size="6.1" font-weight="normal" text-anchor="start" fill="#111" stroke="#111" stroke-width="0.06" textLength="20.30" lengthAdjust="spacingAndGlyphs">OBI-992</text>
<line x1="138.10" y1="274.70" x2="145.60" y2="274.70" stroke="#1a1aff" stroke-width="1.0"/>
<path d="M140.85,274.80L142.85,274.80L141.85,273.20Z" fill="#1a1aff"/>
<text x="150.25" y="276.53" font-size="6.1" font-weight="normal" text-anchor="start" fill="#111" stroke="#111" stroke-width="0.06" textLength="23.93" lengthAdjust="spacingAndGlyphs">Dato-DXd</text>
<circle cx="175.70" cy="266.00" r="0.95" fill="#ff1a1a"/>
<circle cx="178.80" cy="266.00" r="0.95" fill="#ff1a1a"/>
<circle cx="181.90" cy="266.00" r="0.95" fill="#ff1a1a"/>
<circle cx="179.15" cy="274.40" r="0.95" fill="#1a1aff"/>
<path d="M185.00,265.60H187.25V274.40H185.00" fill="none" stroke="#444" stroke-width="0.9"/>
<circle cx="190.95" cy="270.00" r="0.95" fill="#222"/>
<circle cx="194.05" cy="270.00" r="0.95" fill="#222"/>
<circle cx="197.15" cy="270.00" r="0.95" fill="#222"/>
<text x="204.75" y="245.33" font-size="11.24" font-weight="bold" text-anchor="start" fill="#111" stroke="#111" stroke-width="0.22" textLength="8.17" lengthAdjust="spacingAndGlyphs">G</text>
<text x="282.60" y="244.01" font-size="8.03" font-weight="bold" text-anchor="middle" fill="#111" stroke="#111" stroke-width="0.2" textLength="57.10" lengthAdjust="spacingAndGlyphs">BxPC-3 3 mg/kg</text>
<line x1="227.50" y1="252.25" x2="227.50" y2="327.80" stroke="#333" stroke-width="1.05"/>
<line x1="226.70" y1="327.00" x2="339.50" y2="327.00" stroke="#777" stroke-width="1.7"/>
<line x1="224.50" y1="327.00" x2="227.50" y2="327.00" stroke="#333" stroke-width="0.9"/>
<text x="224.60" y="329.31" font-size="6.6" font-weight="bold" text-anchor="end" fill="#111" stroke="#111" stroke-width="0.2" textLength="3.62" lengthAdjust="spacingAndGlyphs">0</text>
<line x1="224.50" y1="313.50" x2="227.50" y2="313.50" stroke="#333" stroke-width="0.9"/>
<text x="224.60" y="315.81" font-size="6.6" font-weight="bold" text-anchor="end" fill="#111" stroke="#111" stroke-width="0.2" textLength="7.23" lengthAdjust="spacingAndGlyphs">20</text>
<line x1="224.50" y1="300.00" x2="227.50" y2="300.00" stroke="#333" stroke-width="0.9"/>
<text x="224.60" y="302.31" font-size="6.6" font-weight="bold" text-anchor="end" fill="#111" stroke="#111" stroke-width="0.2" textLength="7.23" lengthAdjust="spacingAndGlyphs">40</text>
<line x1="224.50" y1="286.50" x2="227.50" y2="286.50" stroke="#333" stroke-width="0.9"/>
<text x="224.60" y="288.81" font-size="6.6" font-weight="bold" text-anchor="end" fill="#111" stroke="#111" stroke-width="0.2" textLength="7.23" lengthAdjust="spacingAndGlyphs">60</text>
<line x1="224.50" y1="273.00" x2="227.50" y2="273.00" stroke="#333" stroke-width="0.9"/>
<text x="224.60" y="275.31" font-size="6.6" font-weight="bold" text-anchor="end" fill="#111" stroke="#111" stroke-width="0.2" textLength="7.23" lengthAdjust="spacingAndGlyphs">80</text>
<line x1="224.50" y1="259.50" x2="227.50" y2="259.50" stroke="#333" stroke-width="0.9"/>
<text x="224.60" y="261.81" font-size="6.6" font-weight="bold" text-anchor="end" fill="#111" stroke="#111" stroke-width="0.2" textLength="10.85" lengthAdjust="spacingAndGlyphs">100</text>
<line x1="229.99" y1="327.00" x2="229.99" y2="329.20" stroke="#777" stroke-width="0.9"/>
<text x="229.99" y="335.91" font-size="6.6" font-weight="bold" text-anchor="middle" fill="#111" stroke="#111" stroke-width="0.2" textLength="3.62" lengthAdjust="spacingAndGlyphs">1</text>
<line x1="235.57" y1="327.00" x2="235.57" y2="329.20" stroke="#777" stroke-width="0.9"/>
<text x="235.57" y="335.91" font-size="6.6" font-weight="bold" text-anchor="middle" fill="#111" stroke="#111" stroke-width="0.2" textLength="3.62" lengthAdjust="spacingAndGlyphs">3</text>
<line x1="246.73" y1="327.00" x2="246.73" y2="329.20" stroke="#777" stroke-width="0.9"/>
<text x="246.73" y="335.91" font-size="6.6" font-weight="bold" text-anchor="middle" fill="#111" stroke="#111" stroke-width="0.2" textLength="3.62" lengthAdjust="spacingAndGlyphs">7</text>
<line x1="255.10" y1="327.00" x2="255.10" y2="329.20" stroke="#777" stroke-width="0.9"/>
<text x="255.10" y="335.91" font-size="6.6" font-weight="bold" text-anchor="middle" fill="#111" stroke="#111" stroke-width="0.2" textLength="7.23" lengthAdjust="spacingAndGlyphs">10</text>
<line x1="266.26" y1="327.00" x2="266.26" y2="329.20" stroke="#777" stroke-width="0.9"/>
<text x="266.26" y="335.91" font-size="6.6" font-weight="bold" text-anchor="middle" fill="#111" stroke="#111" stroke-width="0.2" textLength="7.23" lengthAdjust="spacingAndGlyphs">14</text>
<line x1="274.63" y1="327.00" x2="274.63" y2="329.20" stroke="#777" stroke-width="0.9"/>
<text x="274.63" y="335.91" font-size="6.6" font-weight="bold" text-anchor="middle" fill="#111" stroke="#111" stroke-width="0.2" textLength="7.23" lengthAdjust="spacingAndGlyphs">17</text>
<line x1="285.79" y1="327.00" x2="285.79" y2="329.20" stroke="#777" stroke-width="0.9"/>
<text x="285.79" y="335.91" font-size="6.6" font-weight="bold" text-anchor="middle" fill="#111" stroke="#111" stroke-width="0.2" textLength="7.23" lengthAdjust="spacingAndGlyphs">21</text>
<line x1="294.16" y1="327.00" x2="294.16" y2="329.20" stroke="#777" stroke-width="0.9"/>
<text x="294.16" y="335.91" font-size="6.6" font-weight="bold" text-anchor="middle" fill="#111" stroke="#111" stroke-width="0.2" textLength="7.23" lengthAdjust="spacingAndGlyphs">24</text>
<line x1="305.32" y1="327.00" x2="305.32" y2="329.20" stroke="#777" stroke-width="0.9"/>
<text x="305.32" y="335.91" font-size="6.6" font-weight="bold" text-anchor="middle" fill="#111" stroke="#111" stroke-width="0.2" textLength="7.23" lengthAdjust="spacingAndGlyphs">28</text>
<line x1="313.69" y1="327.00" x2="313.69" y2="329.20" stroke="#777" stroke-width="0.9"/>
<text x="313.69" y="335.91" font-size="6.6" font-weight="bold" text-anchor="middle" fill="#111" stroke="#111" stroke-width="0.2" textLength="7.23" lengthAdjust="spacingAndGlyphs">31</text>
<line x1="324.85" y1="327.00" x2="324.85" y2="329.20" stroke="#777" stroke-width="0.9"/>
<text x="324.85" y="335.91" font-size="6.6" font-weight="bold" text-anchor="middle" fill="#111" stroke="#111" stroke-width="0.2" textLength="7.23" lengthAdjust="spacingAndGlyphs">35</text>
<text x="0" y="2.55" transform="translate(211.25,290.20) rotate(-90)" font-size="7.3" font-weight="normal" text-anchor="middle" fill="#111" stroke="#111" stroke-width="0.28" textLength="62.00" lengthAdjust="spacingAndGlyphs">Percent survival (%)</text>
<text x="284.50" y="343.42" font-size="6.91" font-weight="bold" text-anchor="middle" fill="#111" stroke="#111" stroke-width="0.13" textLength="62.47" lengthAdjust="spacingAndGlyphs">Days after treatment</text>
<polyline points="227.50,259.50 274.63,259.50 274.63,270.77 285.79,270.77 285.79,293.25 294.16,293.25 294.16,304.52 305.32,304.52 305.32,315.73 324.85,315.73 324.85,327.00" fill="none" stroke="#1a1aff" stroke-width="1.2" stroke-linejoin="miter"/>
<polyline points="227.50,259.50 285.79,259.50 285.79,270.77 313.69,270.77 313.69,293.25 324.85,293.25" fill="none" stroke="#ff1a1a" stroke-width="1.25" stroke-dasharray="1.6,1.5" stroke-linejoin="miter"/>
<polyline points="227.50,259.50 255.10,259.50 255.10,281.98 266.26,281.98 266.26,293.25 274.63,293.25 274.63,315.73 305.32,315.73 305.32,327.00" fill="none" stroke="#222" stroke-width="1.25" stroke-dasharray="1.6,1.5" stroke-linejoin="miter"/>
<line x1="329.50" y1="258.00" x2="331.10" y2="258.00" stroke="#222" stroke-width="1.0"/>
<line x1="335.90" y1="258.00" x2="337.50" y2="258.00" stroke="#222" stroke-width="1.0"/>
<path d="M332.20,258.60L334.80,258.60L333.50,256.80Z" fill="#222"/>
<text x="341.25" y="260.13" font-size="6.1" font-weight="normal" text-anchor="start" fill="#111" stroke="#111" stroke-width="0.06" textLength="17.57" lengthAdjust="spacingAndGlyphs">Vehicle</text>
<line x1="329.50" y1="266.25" x2="331.10" y2="266.25" stroke="#ff1a1a" stroke-width="1.0"/>
<line x1="335.90" y1="266.25" x2="337.50" y2="266.25" stroke="#ff1a1a" stroke-width="1.0"/>
<path d="M332.20,266.85L334.80,266.85L333.50,265.05Z" fill="#ff1a1a"/>
<text x="341.25" y="268.38" font-size="6.1" font-weight="normal" text-anchor="start" fill="#111" stroke="#111" stroke-width="0.06" textLength="20.30" lengthAdjust="spacingAndGlyphs">OBI-992</text>
<line x1="329.50" y1="274.80" x2="337.50" y2="274.80" stroke="#1a1aff" stroke-width="1.0"/>
<path d="M332.50,274.90L334.50,274.90L333.50,273.30Z" fill="#1a1aff"/>
<text x="341.25" y="276.63" font-size="6.1" font-weight="normal" text-anchor="start" fill="#111" stroke="#111" stroke-width="0.06" textLength="23.93" lengthAdjust="spacingAndGlyphs">Dato-DXd</text>
<circle cx="367.95" cy="266.25" r="0.95" fill="#ff1a1a"/>
<circle cx="371.05" cy="266.25" r="0.95" fill="#ff1a1a"/>
<path d="M373.00,265.50H376.25V274.25H373.00" fill="none" stroke="#444" stroke-width="0.9"/>
<circle cx="378.75" cy="269.50" r="0.95" fill="#222"/>
</svg></body></html>
